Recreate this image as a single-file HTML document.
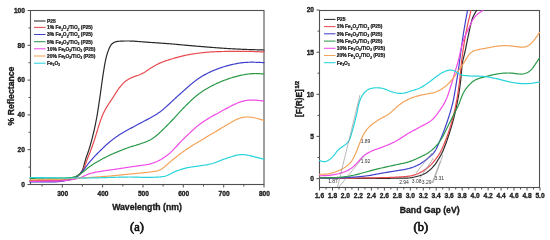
<!DOCTYPE html>
<html><head><meta charset="utf-8"><style>
html,body{margin:0;padding:0;background:#fff;width:550px;height:240px;overflow:hidden}
svg{display:block;will-change:transform}
text{font-family:"Liberation Sans", sans-serif;fill:#222}
.tk{font-size:6.6px;font-weight:bold;stroke:#1a1a1a;stroke-width:0.32px}
.ax{font-size:8.7px;font-weight:bold;stroke:#111;stroke-width:0.32px}
.lg{font-size:4.9px;font-weight:bold;stroke:#111;stroke-width:0.22px}
.sub{font-size:3px}
.tl{font-size:5px;fill:#333}
.cap{font-family:"Liberation Serif", serif;font-size:12.4px;fill:#111;stroke:#111;stroke-width:0.7px}
.curves path{fill:none;stroke-width:1.2;stroke-linejoin:round;stroke-linecap:round}
</style></head><body>
<svg width="550" height="240" viewBox="0 0 550 240">
<rect x="30.5" y="10.5" width="233.5" height="174" fill="none" stroke="#505050" stroke-width="1.1"/><line x1="27.5" y1="184.5" x2="30.5" y2="184.5" stroke="#505050" stroke-width="1"/><text class="tk" x="24.9" y="186.7" text-anchor="end">0</text><line x1="28.5" y1="167.1" x2="30.5" y2="167.1" stroke="#505050" stroke-width="1"/><line x1="27.5" y1="149.7" x2="30.5" y2="149.7" stroke="#505050" stroke-width="1"/><text class="tk" x="24.9" y="151.9" text-anchor="end">20</text><line x1="28.5" y1="132.3" x2="30.5" y2="132.3" stroke="#505050" stroke-width="1"/><line x1="27.5" y1="114.9" x2="30.5" y2="114.9" stroke="#505050" stroke-width="1"/><text class="tk" x="24.9" y="117.1" text-anchor="end">40</text><line x1="28.5" y1="97.5" x2="30.5" y2="97.5" stroke="#505050" stroke-width="1"/><line x1="27.5" y1="80.1" x2="30.5" y2="80.1" stroke="#505050" stroke-width="1"/><text class="tk" x="24.9" y="82.3" text-anchor="end">60</text><line x1="28.5" y1="62.7" x2="30.5" y2="62.7" stroke="#505050" stroke-width="1"/><line x1="27.5" y1="45.3" x2="30.5" y2="45.3" stroke="#505050" stroke-width="1"/><text class="tk" x="24.9" y="47.5" text-anchor="end">80</text><line x1="28.5" y1="27.9" x2="30.5" y2="27.9" stroke="#505050" stroke-width="1"/><line x1="27.5" y1="10.5" x2="30.5" y2="10.5" stroke="#505050" stroke-width="1"/><text class="tk" x="24.9" y="12.7" text-anchor="end">100</text><line x1="42.1" y1="184.5" x2="42.1" y2="186.5" stroke="#505050" stroke-width="1"/><line x1="62.3" y1="184.5" x2="62.3" y2="187.5" stroke="#505050" stroke-width="1"/><text class="tk" x="62.7" y="195.6" text-anchor="middle">300</text><line x1="82.4" y1="184.5" x2="82.4" y2="186.5" stroke="#505050" stroke-width="1"/><line x1="102.6" y1="184.5" x2="102.6" y2="187.5" stroke="#505050" stroke-width="1"/><text class="tk" x="103.0" y="195.6" text-anchor="middle">400</text><line x1="122.8" y1="184.5" x2="122.8" y2="186.5" stroke="#505050" stroke-width="1"/><line x1="143.0" y1="184.5" x2="143.0" y2="187.5" stroke="#505050" stroke-width="1"/><text class="tk" x="143.4" y="195.6" text-anchor="middle">500</text><line x1="163.1" y1="184.5" x2="163.1" y2="186.5" stroke="#505050" stroke-width="1"/><line x1="183.3" y1="184.5" x2="183.3" y2="187.5" stroke="#505050" stroke-width="1"/><text class="tk" x="183.7" y="195.6" text-anchor="middle">600</text><line x1="203.5" y1="184.5" x2="203.5" y2="186.5" stroke="#505050" stroke-width="1"/><line x1="223.7" y1="184.5" x2="223.7" y2="187.5" stroke="#505050" stroke-width="1"/><text class="tk" x="224.1" y="195.6" text-anchor="middle">700</text><line x1="243.8" y1="184.5" x2="243.8" y2="186.5" stroke="#505050" stroke-width="1"/><line x1="264.0" y1="184.5" x2="264.0" y2="187.5" stroke="#505050" stroke-width="1"/><text class="tk" x="264.4" y="195.6" text-anchor="middle">800</text><g class="curves"><path d="M30.00,180.50 L31.00,180.51 L32.01,180.52 L33.01,180.52 L34.01,180.54 L35.01,180.55 L36.02,180.56 L37.02,180.58 L38.02,180.60 L39.03,180.61 L40.03,180.63 L41.03,180.65 L42.03,180.67 L43.04,180.69 L44.04,180.71 L45.04,180.72 L46.05,180.74 L47.05,180.75 L48.05,180.76 L49.05,180.77 L50.06,180.77 L51.06,180.77 L52.06,180.77 L53.07,180.76 L54.07,180.74 L55.07,180.72 L56.07,180.69 L57.07,180.65 L58.08,180.60 L59.08,180.54 L60.08,180.46 L61.08,180.38 L62.07,180.29 L63.07,180.18 L64.07,180.06 L65.06,179.93 L66.05,179.79 L67.04,179.62 L68.03,179.44 L69.01,179.23 L69.98,179.00 L70.94,178.74 L71.90,178.44 L72.84,178.10 L73.76,177.72 L74.66,177.29 L75.54,176.82 L76.40,176.31 L77.24,175.77 L78.06,175.20 L78.85,174.59 L79.59,173.93 L80.29,173.23 L80.92,172.47 L81.48,171.66 L81.98,170.80 L82.41,169.91 L82.80,168.99 L83.14,168.05 L83.45,167.10 L83.74,166.14 L84.02,165.18 L84.28,164.21 L84.54,163.24 L84.80,162.27 L85.06,161.30 L85.33,160.34 L85.61,159.38 L85.91,158.42 L86.22,157.47 L86.54,156.52 L86.87,155.57 L87.21,154.63 L87.55,153.68 L87.89,152.74 L88.23,151.80 L88.56,150.85 L88.88,149.90 L89.18,148.94 L89.48,147.99 L89.77,147.03 L90.05,146.06 L90.33,145.10 L90.60,144.13 L90.87,143.17 L91.13,142.20 L91.39,141.23 L91.64,140.26 L91.90,139.29 L92.15,138.32 L92.40,137.35 L92.64,136.37 L92.88,135.40 L93.12,134.43 L93.36,133.45 L93.59,132.48 L93.82,131.50 L94.05,130.52 L94.28,129.55 L94.50,128.57 L94.72,127.59 L94.93,126.61 L95.14,125.63 L95.35,124.65 L95.56,123.67 L95.75,122.68 L95.95,121.70 L96.14,120.72 L96.33,119.73 L96.51,118.74 L96.69,117.76 L96.86,116.77 L97.03,115.78 L97.20,114.79 L97.36,113.80 L97.53,112.81 L97.69,111.82 L97.84,110.83 L98.00,109.84 L98.15,108.85 L98.31,107.86 L98.46,106.87 L98.61,105.88 L98.76,104.89 L98.91,103.89 L99.06,102.90 L99.21,101.91 L99.36,100.92 L99.51,99.93 L99.66,98.94 L99.80,97.94 L99.95,96.95 L100.09,95.96 L100.23,94.96 L100.37,93.97 L100.50,92.98 L100.64,91.98 L100.77,90.99 L100.91,90.00 L101.04,89.00 L101.18,88.01 L101.31,87.01 L101.44,86.02 L101.58,85.03 L101.72,84.03 L101.86,83.04 L102.00,82.05 L102.14,81.05 L102.28,80.06 L102.42,79.07 L102.57,78.08 L102.72,77.08 L102.86,76.09 L103.01,75.10 L103.17,74.11 L103.32,73.12 L103.48,72.13 L103.64,71.14 L103.80,70.15 L103.96,69.16 L104.12,68.17 L104.28,67.18 L104.44,66.19 L104.61,65.20 L104.78,64.21 L104.95,63.22 L105.13,62.24 L105.32,61.25 L105.52,60.27 L105.74,59.29 L105.96,58.31 L106.20,57.34 L106.46,56.37 L106.73,55.40 L107.01,54.44 L107.31,53.49 L107.62,52.53 L107.95,51.59 L108.29,50.64 L108.65,49.71 L109.02,48.78 L109.42,47.86 L109.85,46.96 L110.32,46.08 L110.85,45.25 L111.44,44.47 L112.11,43.76 L112.86,43.14 L113.69,42.62 L114.57,42.20 L115.49,41.87 L116.45,41.63 L117.43,41.46 L118.42,41.34 L119.41,41.26 L120.41,41.19 L121.41,41.13 L122.41,41.08 L123.42,41.04 L124.42,41.02 L125.42,41.00 L126.42,40.98 L127.43,40.98 L128.43,40.99 L129.43,41.01 L130.43,41.03 L131.44,41.07 L132.44,41.11 L133.44,41.16 L134.44,41.22 L135.44,41.28 L136.44,41.35 L137.44,41.42 L138.44,41.49 L139.44,41.57 L140.44,41.65 L141.44,41.73 L142.44,41.81 L143.44,41.89 L144.44,41.97 L145.44,42.05 L146.44,42.13 L147.44,42.21 L148.44,42.28 L149.44,42.35 L150.44,42.43 L151.44,42.50 L152.44,42.57 L153.44,42.63 L154.44,42.70 L155.45,42.77 L156.45,42.84 L157.45,42.90 L158.45,42.97 L159.45,43.04 L160.45,43.11 L161.45,43.18 L162.45,43.24 L163.45,43.31 L164.45,43.39 L165.45,43.46 L166.45,43.53 L167.45,43.61 L168.45,43.68 L169.45,43.76 L170.45,43.84 L171.45,43.92 L172.45,44.01 L173.45,44.09 L174.45,44.18 L175.45,44.27 L176.45,44.36 L177.44,44.45 L178.44,44.55 L179.44,44.64 L180.44,44.73 L181.44,44.82 L182.44,44.92 L183.44,45.01 L184.43,45.10 L185.43,45.19 L186.43,45.28 L187.43,45.37 L188.43,45.46 L189.43,45.55 L190.43,45.63 L191.43,45.72 L192.43,45.81 L193.43,45.89 L194.43,45.97 L195.43,46.06 L196.43,46.14 L197.42,46.23 L198.42,46.31 L199.42,46.39 L200.42,46.47 L201.42,46.56 L202.42,46.64 L203.42,46.72 L204.42,46.80 L205.42,46.88 L206.42,46.96 L207.42,47.04 L208.42,47.12 L209.42,47.20 L210.42,47.28 L211.42,47.36 L212.42,47.44 L213.42,47.51 L214.42,47.59 L215.42,47.66 L216.42,47.74 L217.42,47.81 L218.42,47.88 L219.42,47.96 L220.42,48.03 L221.42,48.10 L222.42,48.17 L223.42,48.23 L224.42,48.30 L225.42,48.37 L226.43,48.43 L227.43,48.50 L228.43,48.56 L229.43,48.62 L230.43,48.68 L231.43,48.74 L232.43,48.80 L233.43,48.86 L234.43,48.92 L235.44,48.97 L236.44,49.02 L237.44,49.07 L238.44,49.12 L239.44,49.17 L240.44,49.22 L241.45,49.26 L242.45,49.30 L243.45,49.34 L244.45,49.38 L245.45,49.42 L246.46,49.46 L247.46,49.49 L248.46,49.52 L249.46,49.56 L250.47,49.59 L251.47,49.62 L252.47,49.65 L253.47,49.68 L254.48,49.71 L255.48,49.74 L256.48,49.77 L257.48,49.80 L258.49,49.83 L259.49,49.86 L260.49,49.89 L261.49,49.92 L262.50,49.95 L263.50,49.98 L264.00,50.00" stroke="#2a2a2a"/>
<path d="M30.00,181.00 L31.00,180.97 L32.01,180.93 L33.01,180.90 L34.01,180.86 L35.01,180.83 L36.02,180.79 L37.02,180.76 L38.02,180.72 L39.02,180.69 L40.03,180.65 L41.03,180.62 L42.03,180.59 L43.03,180.56 L44.04,180.53 L45.04,180.51 L46.04,180.49 L47.05,180.47 L48.05,180.46 L49.05,180.45 L50.05,180.44 L51.06,180.43 L52.06,180.43 L53.06,180.42 L54.07,180.40 L55.07,180.39 L56.07,180.36 L57.08,180.33 L58.08,180.29 L59.08,180.24 L60.08,180.18 L61.08,180.12 L62.08,180.06 L63.08,179.99 L64.08,179.92 L65.08,179.84 L66.08,179.76 L67.08,179.67 L68.08,179.56 L69.08,179.44 L70.07,179.30 L71.05,179.13 L72.03,178.92 L72.99,178.66 L73.93,178.34 L74.84,177.96 L75.72,177.50 L76.57,176.98 L77.38,176.41 L78.17,175.80 L78.94,175.16 L79.68,174.49 L80.38,173.78 L81.04,173.03 L81.65,172.25 L82.20,171.42 L82.71,170.56 L83.17,169.68 L83.60,168.78 L84.00,167.86 L84.38,166.93 L84.75,166.00 L85.11,165.06 L85.46,164.12 L85.81,163.18 L86.16,162.24 L86.51,161.30 L86.87,160.37 L87.23,159.43 L87.60,158.50 L87.97,157.56 L88.34,156.63 L88.70,155.70 L89.07,154.76 L89.43,153.83 L89.79,152.89 L90.15,151.96 L90.51,151.02 L90.86,150.08 L91.21,149.14 L91.56,148.20 L91.90,147.25 L92.24,146.31 L92.57,145.36 L92.90,144.42 L93.23,143.47 L93.55,142.52 L93.87,141.57 L94.18,140.61 L94.50,139.66 L94.81,138.71 L95.12,137.75 L95.42,136.80 L95.73,135.84 L96.03,134.88 L96.32,133.93 L96.61,132.97 L96.90,132.00 L97.19,131.04 L97.47,130.08 L97.75,129.12 L98.04,128.16 L98.33,127.20 L98.62,126.24 L98.92,125.28 L99.23,124.33 L99.54,123.37 L99.86,122.42 L100.18,121.47 L100.51,120.52 L100.85,119.58 L101.20,118.64 L101.55,117.70 L101.92,116.77 L102.30,115.84 L102.69,114.91 L103.09,114.00 L103.50,113.08 L103.93,112.18 L104.38,111.28 L104.84,110.39 L105.32,109.51 L105.81,108.63 L106.32,107.77 L106.84,106.91 L107.37,106.06 L107.91,105.21 L108.45,104.37 L108.99,103.53 L109.54,102.69 L110.10,101.85 L110.65,101.02 L111.21,100.18 L111.77,99.35 L112.33,98.52 L112.88,97.68 L113.43,96.84 L113.96,95.99 L114.49,95.14 L115.01,94.28 L115.53,93.42 L116.05,92.57 L116.59,91.72 L117.13,90.88 L117.70,90.05 L118.27,89.23 L118.86,88.42 L119.47,87.62 L120.08,86.83 L120.72,86.05 L121.37,85.29 L122.03,84.54 L122.72,83.81 L123.42,83.10 L124.15,82.41 L124.89,81.74 L125.66,81.10 L126.46,80.50 L127.28,79.93 L128.13,79.40 L129.00,78.90 L129.88,78.44 L130.78,78.00 L131.70,77.60 L132.62,77.21 L133.56,76.85 L134.50,76.51 L135.45,76.18 L136.40,75.87 L137.35,75.54 L138.29,75.20 L139.22,74.84 L140.15,74.45 L141.06,74.04 L141.96,73.60 L142.85,73.14 L143.73,72.66 L144.60,72.16 L145.45,71.64 L146.29,71.09 L147.11,70.52 L147.94,69.95 L148.76,69.38 L149.59,68.82 L150.43,68.27 L151.28,67.73 L152.13,67.21 L153.00,66.69 L153.86,66.19 L154.73,65.69 L155.61,65.21 L156.50,64.74 L157.39,64.28 L158.29,63.84 L159.19,63.41 L160.11,63.00 L161.03,62.61 L161.96,62.23 L162.89,61.86 L163.83,61.51 L164.78,61.18 L165.73,60.85 L166.68,60.53 L167.63,60.22 L168.59,59.91 L169.54,59.62 L170.50,59.32 L171.46,59.03 L172.43,58.75 L173.39,58.47 L174.35,58.19 L175.32,57.92 L176.28,57.64 L177.25,57.38 L178.22,57.11 L179.19,56.85 L180.16,56.60 L181.13,56.35 L182.10,56.11 L183.08,55.87 L184.05,55.64 L185.03,55.42 L186.01,55.20 L186.99,55.00 L187.98,54.80 L188.96,54.61 L189.95,54.43 L190.94,54.25 L191.92,54.09 L192.91,53.93 L193.91,53.77 L194.90,53.63 L195.89,53.49 L196.89,53.35 L197.88,53.22 L198.88,53.10 L199.87,52.98 L200.87,52.86 L201.86,52.75 L202.86,52.65 L203.86,52.54 L204.86,52.45 L205.86,52.35 L206.86,52.26 L207.86,52.18 L208.86,52.10 L209.86,52.02 L210.86,51.95 L211.86,51.89 L212.86,51.83 L213.86,51.78 L214.86,51.73 L215.87,51.69 L216.87,51.65 L217.87,51.62 L218.87,51.59 L219.88,51.56 L220.88,51.54 L221.88,51.52 L222.88,51.50 L223.89,51.48 L224.89,51.47 L225.89,51.46 L226.90,51.44 L227.90,51.43 L228.90,51.41 L229.91,51.40 L230.91,51.39 L231.91,51.38 L232.92,51.36 L233.92,51.35 L234.92,51.34 L235.93,51.34 L236.93,51.33 L237.93,51.32 L238.93,51.32 L239.94,51.32 L240.94,51.32 L241.94,51.32 L242.95,51.32 L243.95,51.33 L244.95,51.33 L245.96,51.34 L246.96,51.36 L247.96,51.37 L248.97,51.39 L249.97,51.41 L250.97,51.43 L251.97,51.46 L252.98,51.50 L253.98,51.53 L254.98,51.57 L255.98,51.62 L256.99,51.66 L257.99,51.71 L258.99,51.76 L259.99,51.81 L260.99,51.86 L262.00,51.91 L263.00,51.95 L264.00,52.00 L264.00,52.00" stroke="#e84a4f"/>
<path d="M30.00,182.00 L31.00,181.99 L32.00,181.97 L33.01,181.96 L34.01,181.95 L35.01,181.94 L36.01,181.92 L37.02,181.91 L38.02,181.90 L39.02,181.89 L40.02,181.87 L41.03,181.86 L42.03,181.85 L43.03,181.83 L44.03,181.82 L45.03,181.81 L46.04,181.81 L47.04,181.81 L48.04,181.81 L49.04,181.82 L50.05,181.83 L51.05,181.84 L52.05,181.85 L53.05,181.85 L54.05,181.84 L55.06,181.82 L56.06,181.78 L57.06,181.73 L58.06,181.66 L59.05,181.57 L60.05,181.46 L61.04,181.33 L62.04,181.19 L63.03,181.04 L64.02,180.87 L65.00,180.70 L65.99,180.52 L66.97,180.32 L67.95,180.11 L68.92,179.88 L69.90,179.64 L70.86,179.37 L71.82,179.09 L72.77,178.77 L73.70,178.42 L74.62,178.03 L75.52,177.60 L76.39,177.11 L77.22,176.57 L78.02,175.98 L78.78,175.34 L79.51,174.66 L80.21,173.95 L80.89,173.21 L81.56,172.46 L82.21,171.70 L82.84,170.93 L83.46,170.14 L84.07,169.35 L84.67,168.54 L85.26,167.73 L85.84,166.92 L86.43,166.11 L87.03,165.31 L87.64,164.51 L88.26,163.72 L88.89,162.95 L89.53,162.17 L90.18,161.41 L90.83,160.65 L91.49,159.89 L92.15,159.14 L92.82,158.39 L93.49,157.65 L94.17,156.91 L94.85,156.18 L95.54,155.45 L96.23,154.72 L96.93,154.00 L97.63,153.29 L98.34,152.57 L99.04,151.86 L99.76,151.16 L100.47,150.46 L101.19,149.76 L101.91,149.06 L102.63,148.36 L103.35,147.67 L104.08,146.97 L104.80,146.29 L105.54,145.60 L106.27,144.92 L107.02,144.25 L107.77,143.59 L108.53,142.93 L109.29,142.28 L110.06,141.64 L110.84,141.01 L111.62,140.39 L112.41,139.77 L113.20,139.15 L114.00,138.55 L114.81,137.95 L115.61,137.36 L116.43,136.78 L117.25,136.20 L118.08,135.64 L118.92,135.09 L119.76,134.55 L120.61,134.01 L121.47,133.49 L122.33,132.98 L123.19,132.47 L124.06,131.97 L124.93,131.48 L125.81,130.99 L126.68,130.50 L127.56,130.02 L128.44,129.54 L129.32,129.06 L130.21,128.59 L131.09,128.11 L131.97,127.64 L132.85,127.16 L133.74,126.69 L134.62,126.21 L135.50,125.73 L136.38,125.26 L137.27,124.78 L138.15,124.31 L139.04,123.84 L139.92,123.38 L140.81,122.91 L141.70,122.44 L142.59,121.98 L143.47,121.51 L144.36,121.05 L145.25,120.58 L146.13,120.11 L147.01,119.63 L147.89,119.15 L148.77,118.67 L149.65,118.19 L150.53,117.70 L151.40,117.21 L152.27,116.72 L153.15,116.22 L154.02,115.73 L154.88,115.22 L155.75,114.71 L156.60,114.19 L157.45,113.66 L158.29,113.12 L159.12,112.56 L159.94,111.98 L160.75,111.38 L161.54,110.77 L162.31,110.14 L163.08,109.49 L163.84,108.84 L164.59,108.17 L165.33,107.50 L166.08,106.83 L166.82,106.16 L167.56,105.48 L168.30,104.81 L169.04,104.13 L169.77,103.45 L170.51,102.76 L171.24,102.08 L171.97,101.39 L172.70,100.70 L173.43,100.02 L174.16,99.33 L174.89,98.65 L175.63,97.96 L176.36,97.28 L177.10,96.61 L177.84,95.93 L178.59,95.26 L179.34,94.59 L180.08,93.93 L180.83,93.26 L181.58,92.60 L182.33,91.93 L183.08,91.26 L183.83,90.60 L184.58,89.93 L185.32,89.26 L186.07,88.59 L186.82,87.93 L187.57,87.27 L188.33,86.60 L189.08,85.95 L189.84,85.29 L190.61,84.64 L191.37,84.00 L192.15,83.36 L192.92,82.72 L193.70,82.10 L194.49,81.48 L195.28,80.87 L196.09,80.26 L196.89,79.67 L197.71,79.09 L198.53,78.52 L199.37,77.96 L200.21,77.42 L201.05,76.88 L201.91,76.36 L202.77,75.85 L203.64,75.36 L204.52,74.87 L205.40,74.39 L206.29,73.92 L207.18,73.47 L208.07,73.02 L208.97,72.58 L209.88,72.15 L210.79,71.73 L211.71,71.32 L212.62,70.92 L213.55,70.53 L214.47,70.14 L215.40,69.76 L216.33,69.40 L217.27,69.03 L218.20,68.68 L219.14,68.33 L220.09,68.00 L221.03,67.67 L221.98,67.35 L222.94,67.04 L223.90,66.74 L224.86,66.46 L225.82,66.18 L226.78,65.91 L227.75,65.65 L228.72,65.39 L229.69,65.15 L230.67,64.91 L231.64,64.68 L232.62,64.46 L233.60,64.24 L234.58,64.03 L235.56,63.83 L236.54,63.64 L237.53,63.45 L238.51,63.28 L239.50,63.11 L240.49,62.95 L241.48,62.81 L242.48,62.68 L243.47,62.57 L244.47,62.48 L245.47,62.41 L246.47,62.34 L247.47,62.30 L248.47,62.26 L249.47,62.23 L250.48,62.21 L251.48,62.21 L252.48,62.21 L253.48,62.22 L254.48,62.24 L255.49,62.27 L256.49,62.30 L257.49,62.34 L258.49,62.38 L259.49,62.42 L260.49,62.46 L261.50,62.50 L262.50,62.54 L263.50,62.58 L264.00,62.60" stroke="#4040cc"/>
<path d="M30.00,178.50 L31.00,178.46 L32.00,178.42 L33.01,178.39 L34.01,178.35 L35.01,178.31 L36.01,178.27 L37.01,178.23 L38.02,178.19 L39.02,178.15 L40.02,178.12 L41.02,178.09 L42.02,178.06 L43.03,178.04 L44.03,178.03 L45.03,178.02 L46.03,178.02 L47.04,178.03 L48.04,178.04 L49.04,178.06 L50.04,178.09 L51.05,178.12 L52.05,178.15 L53.05,178.18 L54.05,178.21 L55.06,178.22 L56.06,178.24 L57.06,178.24 L58.06,178.23 L59.07,178.21 L60.07,178.18 L61.07,178.15 L62.07,178.11 L63.07,178.07 L64.08,178.03 L65.08,177.98 L66.08,177.93 L67.08,177.87 L68.08,177.80 L69.08,177.71 L70.07,177.61 L71.07,177.49 L72.06,177.34 L73.04,177.16 L74.02,176.95 L74.98,176.69 L75.92,176.38 L76.85,176.01 L77.75,175.58 L78.62,175.10 L79.47,174.58 L80.29,174.02 L81.10,173.43 L81.90,172.83 L82.70,172.21 L83.48,171.59 L84.26,170.96 L85.03,170.31 L85.79,169.67 L86.56,169.02 L87.33,168.38 L88.11,167.75 L88.91,167.14 L89.72,166.55 L90.54,165.98 L91.37,165.43 L92.22,164.89 L93.07,164.35 L93.92,163.83 L94.78,163.32 L95.64,162.80 L96.51,162.29 L97.37,161.79 L98.24,161.28 L99.11,160.78 L99.98,160.29 L100.85,159.79 L101.73,159.31 L102.61,158.82 L103.49,158.34 L104.37,157.87 L105.26,157.41 L106.15,156.95 L107.05,156.50 L107.95,156.05 L108.85,155.62 L109.76,155.19 L110.66,154.77 L111.58,154.35 L112.49,153.94 L113.41,153.54 L114.33,153.14 L115.25,152.74 L116.18,152.35 L117.10,151.97 L118.03,151.58 L118.95,151.20 L119.88,150.83 L120.81,150.45 L121.75,150.08 L122.68,149.71 L123.61,149.35 L124.55,148.99 L125.49,148.64 L126.43,148.29 L127.37,147.95 L128.31,147.61 L129.26,147.28 L130.21,146.96 L131.16,146.65 L132.12,146.35 L133.08,146.06 L134.04,145.78 L135.01,145.50 L135.97,145.22 L136.93,144.94 L137.89,144.65 L138.85,144.35 L139.80,144.04 L140.75,143.72 L141.70,143.39 L142.64,143.05 L143.58,142.71 L144.52,142.35 L145.46,141.99 L146.38,141.61 L147.31,141.22 L148.22,140.81 L149.12,140.38 L150.02,139.93 L150.90,139.45 L151.76,138.95 L152.61,138.42 L153.44,137.86 L154.26,137.28 L155.06,136.68 L155.85,136.07 L156.63,135.43 L157.39,134.78 L158.15,134.12 L158.89,133.45 L159.63,132.78 L160.36,132.09 L161.09,131.40 L161.81,130.70 L162.53,130.01 L163.25,129.30 L163.96,128.60 L164.67,127.89 L165.38,127.18 L166.08,126.47 L166.79,125.76 L167.49,125.04 L168.20,124.33 L168.90,123.61 L169.60,122.90 L170.30,122.18 L171.00,121.46 L171.69,120.73 L172.38,120.00 L173.06,119.27 L173.75,118.54 L174.43,117.80 L175.10,117.06 L175.78,116.32 L176.46,115.58 L177.13,114.84 L177.81,114.10 L178.48,113.36 L179.16,112.62 L179.84,111.88 L180.52,111.15 L181.21,110.41 L181.90,109.69 L182.59,108.96 L183.29,108.24 L183.99,107.53 L184.70,106.82 L185.41,106.11 L186.12,105.40 L186.83,104.70 L187.55,103.99 L188.26,103.29 L188.98,102.59 L189.70,101.89 L190.42,101.19 L191.14,100.50 L191.87,99.81 L192.61,99.13 L193.35,98.45 L194.09,97.78 L194.85,97.12 L195.61,96.47 L196.38,95.83 L197.16,95.20 L197.94,94.58 L198.74,93.97 L199.55,93.37 L200.36,92.79 L201.18,92.22 L202.01,91.65 L202.85,91.10 L203.69,90.56 L204.54,90.03 L205.40,89.50 L206.26,88.99 L207.12,88.48 L207.99,87.98 L208.87,87.49 L209.74,87.01 L210.63,86.53 L211.51,86.07 L212.40,85.60 L213.30,85.15 L214.20,84.70 L215.10,84.27 L216.00,83.83 L216.91,83.41 L217.82,82.99 L218.74,82.58 L219.65,82.18 L220.58,81.78 L221.50,81.39 L222.43,81.02 L223.36,80.65 L224.30,80.29 L225.24,79.94 L226.18,79.59 L227.12,79.26 L228.07,78.93 L229.02,78.61 L229.97,78.30 L230.93,78.00 L231.89,77.70 L232.85,77.41 L233.81,77.13 L234.77,76.86 L235.74,76.59 L236.71,76.34 L237.68,76.09 L238.65,75.84 L239.63,75.61 L240.61,75.39 L241.59,75.17 L242.57,74.97 L243.55,74.78 L244.54,74.60 L245.53,74.43 L246.52,74.28 L247.51,74.13 L248.50,74.00 L249.50,73.89 L250.49,73.78 L251.49,73.70 L252.49,73.62 L253.49,73.57 L254.49,73.53 L255.50,73.52 L256.50,73.53 L257.50,73.56 L258.50,73.61 L259.50,73.67 L260.50,73.74 L261.50,73.82 L262.50,73.89 L263.50,73.96 L264.00,74.00" stroke="#2a9a48"/>
<path d="M30.00,181.50 L31.00,181.48 L32.01,181.46 L33.01,181.44 L34.01,181.42 L35.01,181.40 L36.02,181.38 L37.02,181.35 L38.02,181.33 L39.03,181.31 L40.03,181.29 L41.03,181.27 L42.04,181.25 L43.04,181.24 L44.04,181.22 L45.04,181.21 L46.05,181.20 L47.05,181.20 L48.05,181.19 L49.06,181.20 L50.06,181.20 L51.06,181.20 L52.07,181.21 L53.07,181.21 L54.07,181.20 L55.08,181.19 L56.08,181.16 L57.08,181.13 L58.08,181.09 L59.08,181.04 L60.08,180.97 L61.09,180.90 L62.09,180.83 L63.09,180.74 L64.08,180.65 L65.08,180.56 L66.08,180.46 L67.08,180.35 L68.08,180.24 L69.07,180.12 L70.07,179.99 L71.06,179.85 L72.05,179.70 L73.04,179.53 L74.02,179.35 L75.01,179.16 L75.99,178.94 L76.96,178.71 L77.93,178.44 L78.88,178.15 L79.83,177.83 L80.77,177.48 L81.70,177.11 L82.62,176.71 L83.53,176.30 L84.44,175.88 L85.35,175.45 L86.27,175.04 L87.18,174.64 L88.11,174.26 L89.05,173.91 L90.00,173.58 L90.95,173.29 L91.92,173.03 L92.89,172.80 L93.87,172.58 L94.86,172.39 L95.84,172.20 L96.83,172.03 L97.82,171.86 L98.81,171.70 L99.80,171.54 L100.79,171.37 L101.78,171.21 L102.77,171.06 L103.76,170.90 L104.75,170.75 L105.74,170.61 L106.74,170.46 L107.73,170.32 L108.72,170.18 L109.72,170.04 L110.71,169.90 L111.70,169.76 L112.70,169.62 L113.69,169.48 L114.68,169.34 L115.68,169.19 L116.67,169.04 L117.66,168.90 L118.65,168.75 L119.64,168.59 L120.63,168.44 L121.63,168.29 L122.62,168.13 L123.61,167.98 L124.60,167.83 L125.59,167.67 L126.58,167.52 L127.57,167.37 L128.57,167.22 L129.56,167.07 L130.55,166.93 L131.54,166.78 L132.54,166.64 L133.53,166.51 L134.52,166.37 L135.52,166.23 L136.51,166.09 L137.51,165.96 L138.50,165.82 L139.49,165.68 L140.49,165.54 L141.48,165.41 L142.48,165.27 L143.47,165.14 L144.46,165.01 L145.46,164.86 L146.44,164.70 L147.43,164.52 L148.41,164.32 L149.39,164.10 L150.36,163.84 L151.32,163.56 L152.28,163.26 L153.22,162.94 L154.17,162.60 L155.10,162.24 L156.03,161.86 L156.95,161.46 L157.86,161.04 L158.76,160.60 L159.65,160.14 L160.53,159.66 L161.40,159.16 L162.26,158.65 L163.11,158.12 L163.95,157.57 L164.78,157.01 L165.60,156.43 L166.41,155.84 L167.21,155.23 L168.00,154.61 L168.77,153.98 L169.54,153.34 L170.30,152.68 L171.04,152.00 L171.77,151.32 L172.48,150.62 L173.19,149.90 L173.88,149.18 L174.57,148.45 L175.25,147.71 L175.93,146.97 L176.61,146.23 L177.28,145.49 L177.96,144.75 L178.64,144.01 L179.32,143.28 L180.01,142.55 L180.71,141.83 L181.41,141.11 L182.12,140.40 L182.83,139.69 L183.54,138.99 L184.25,138.28 L184.97,137.58 L185.68,136.87 L186.40,136.17 L187.11,135.47 L187.83,134.77 L188.55,134.07 L189.27,133.37 L190.00,132.68 L190.73,131.99 L191.46,131.30 L192.19,130.62 L192.93,129.94 L193.68,129.27 L194.43,128.60 L195.18,127.94 L195.94,127.29 L196.71,126.64 L197.49,126.01 L198.27,125.38 L199.06,124.76 L199.86,124.15 L200.66,123.56 L201.47,122.97 L202.29,122.39 L203.12,121.83 L203.96,121.27 L204.79,120.72 L205.64,120.18 L206.49,119.65 L207.34,119.12 L208.20,118.61 L209.07,118.09 L209.93,117.59 L210.80,117.09 L211.67,116.59 L212.55,116.10 L213.42,115.61 L214.30,115.12 L215.18,114.64 L216.06,114.16 L216.94,113.67 L217.82,113.19 L218.70,112.71 L219.58,112.23 L220.46,111.75 L221.34,111.26 L222.21,110.78 L223.09,110.30 L223.97,109.81 L224.85,109.33 L225.73,108.85 L226.62,108.37 L227.50,107.90 L228.38,107.42 L229.27,106.95 L230.16,106.49 L231.05,106.03 L231.94,105.58 L232.84,105.13 L233.75,104.69 L234.65,104.26 L235.56,103.84 L236.48,103.44 L237.40,103.05 L238.33,102.67 L239.27,102.32 L240.21,101.98 L241.17,101.67 L242.12,101.38 L243.09,101.11 L244.06,100.88 L245.04,100.67 L246.03,100.49 L247.02,100.34 L248.01,100.22 L249.01,100.13 L250.01,100.06 L251.01,100.03 L252.01,100.02 L253.01,100.04 L254.01,100.08 L255.01,100.14 L256.01,100.22 L257.01,100.31 L258.01,100.41 L259.01,100.51 L260.01,100.61 L261.00,100.71 L262.00,100.81 L263.00,100.91 L264.00,101.00 L264.00,101.00" stroke="#f04ce6"/>
<path d="M30.00,180.00 L31.00,179.97 L32.01,179.93 L33.01,179.90 L34.01,179.86 L35.01,179.83 L36.02,179.79 L37.02,179.76 L38.02,179.72 L39.02,179.69 L40.03,179.65 L41.03,179.62 L42.03,179.59 L43.04,179.56 L44.04,179.53 L45.04,179.50 L46.04,179.48 L47.05,179.46 L48.05,179.44 L49.05,179.42 L50.06,179.41 L51.06,179.39 L52.06,179.38 L53.07,179.36 L54.07,179.35 L55.07,179.33 L56.08,179.31 L57.08,179.28 L58.08,179.25 L59.08,179.22 L60.09,179.19 L61.09,179.15 L62.09,179.11 L63.09,179.06 L64.10,179.01 L65.10,178.96 L66.10,178.91 L67.10,178.86 L68.10,178.80 L69.11,178.74 L70.11,178.69 L71.11,178.63 L72.11,178.57 L73.11,178.50 L74.11,178.44 L75.11,178.38 L76.12,178.32 L77.12,178.26 L78.12,178.19 L79.12,178.13 L80.12,178.07 L81.12,178.01 L82.12,177.94 L83.13,177.88 L84.13,177.82 L85.13,177.75 L86.13,177.69 L87.13,177.63 L88.13,177.56 L89.13,177.50 L90.13,177.43 L91.14,177.37 L92.14,177.30 L93.14,177.23 L94.14,177.17 L95.14,177.10 L96.14,177.03 L97.14,176.96 L98.14,176.89 L99.14,176.82 L100.14,176.75 L101.15,176.68 L102.15,176.61 L103.15,176.53 L104.15,176.46 L105.15,176.38 L106.15,176.31 L107.15,176.23 L108.15,176.15 L109.15,176.07 L110.15,175.98 L111.15,175.90 L112.15,175.81 L113.15,175.72 L114.15,175.62 L115.14,175.53 L116.14,175.43 L117.14,175.33 L118.14,175.23 L119.14,175.13 L120.14,175.03 L121.13,174.92 L122.13,174.82 L123.13,174.72 L124.13,174.61 L125.12,174.51 L126.12,174.40 L127.12,174.30 L128.12,174.19 L129.12,174.09 L130.11,173.99 L131.11,173.90 L132.11,173.80 L133.11,173.71 L134.11,173.62 L135.11,173.53 L136.11,173.44 L137.11,173.35 L138.11,173.26 L139.11,173.17 L140.11,173.08 L141.11,172.99 L142.10,172.90 L143.10,172.80 L144.10,172.70 L145.10,172.59 L146.10,172.48 L147.09,172.37 L148.09,172.25 L149.08,172.12 L150.08,171.99 L151.07,171.86 L152.07,171.73 L153.06,171.60 L154.06,171.46 L155.05,171.31 L156.03,171.12 L157.00,170.90 L157.96,170.63 L158.90,170.30 L159.82,169.92 L160.71,169.48 L161.57,168.98 L162.41,168.43 L163.22,167.85 L164.00,167.23 L164.78,166.59 L165.53,165.94 L166.29,165.27 L167.03,164.61 L167.78,163.94 L168.54,163.28 L169.30,162.62 L170.06,161.98 L170.84,161.34 L171.61,160.70 L172.39,160.06 L173.17,159.43 L173.95,158.80 L174.72,158.17 L175.50,157.53 L176.29,156.91 L177.07,156.28 L177.86,155.66 L178.65,155.05 L179.45,154.44 L180.25,153.83 L181.05,153.23 L181.86,152.64 L182.67,152.05 L183.49,151.46 L184.30,150.88 L185.13,150.30 L185.95,149.73 L186.78,149.16 L187.61,148.60 L188.44,148.04 L189.28,147.49 L190.12,146.94 L190.97,146.40 L191.82,145.87 L192.67,145.35 L193.53,144.83 L194.39,144.31 L195.25,143.80 L196.12,143.29 L196.98,142.78 L197.85,142.27 L198.71,141.76 L199.57,141.25 L200.43,140.73 L201.29,140.22 L202.15,139.70 L203.01,139.18 L203.87,138.66 L204.73,138.14 L205.58,137.62 L206.44,137.10 L207.30,136.57 L208.16,136.05 L209.01,135.53 L209.87,135.01 L210.73,134.49 L211.59,133.98 L212.45,133.46 L213.31,132.94 L214.17,132.43 L215.03,131.92 L215.90,131.40 L216.76,130.89 L217.63,130.39 L218.49,129.88 L219.36,129.37 L220.22,128.86 L221.09,128.35 L221.95,127.84 L222.81,127.32 L223.67,126.81 L224.52,126.28 L225.38,125.76 L226.24,125.24 L227.09,124.72 L227.95,124.19 L228.81,123.68 L229.67,123.16 L230.53,122.65 L231.40,122.15 L232.27,121.65 L233.15,121.16 L234.03,120.69 L234.92,120.23 L235.82,119.79 L236.73,119.36 L237.65,118.96 L238.58,118.59 L239.52,118.25 L240.47,117.95 L241.44,117.68 L242.41,117.46 L243.39,117.27 L244.38,117.13 L245.38,117.03 L246.38,116.98 L247.38,116.96 L248.38,116.98 L249.38,117.03 L250.37,117.11 L251.37,117.23 L252.36,117.38 L253.34,117.56 L254.32,117.77 L255.30,118.00 L256.27,118.25 L257.24,118.51 L258.20,118.78 L259.17,119.06 L260.13,119.33 L261.10,119.61 L262.06,119.87 L263.03,120.14 L264.00,120.40 L264.00,120.40" stroke="#f4a45a"/>
<path d="M30.00,177.50 L31.00,177.50 L32.01,177.51 L33.01,177.51 L34.01,177.52 L35.01,177.52 L36.02,177.53 L37.02,177.53 L38.02,177.54 L39.03,177.54 L40.03,177.55 L41.03,177.56 L42.04,177.57 L43.04,177.58 L44.04,177.59 L45.04,177.61 L46.05,177.63 L47.05,177.65 L48.05,177.67 L49.05,177.70 L50.06,177.73 L51.06,177.76 L52.06,177.79 L53.06,177.82 L54.07,177.85 L55.07,177.88 L56.07,177.91 L57.07,177.94 L58.08,177.96 L59.08,177.98 L60.08,177.99 L61.09,178.01 L62.09,178.01 L63.09,178.02 L64.09,178.03 L65.10,178.03 L66.10,178.03 L67.10,178.03 L68.11,178.02 L69.11,178.02 L70.11,178.02 L71.11,178.01 L72.12,178.01 L73.12,178.01 L74.12,178.01 L75.13,178.00 L76.13,178.00 L77.13,178.00 L78.13,178.01 L79.14,178.01 L80.14,178.01 L81.14,178.02 L82.15,178.02 L83.15,178.03 L84.15,178.03 L85.16,178.03 L86.16,178.02 L87.16,178.02 L88.16,178.01 L89.17,178.00 L90.17,177.99 L91.17,177.97 L92.18,177.96 L93.18,177.94 L94.18,177.91 L95.18,177.89 L96.19,177.87 L97.19,177.84 L98.19,177.81 L99.19,177.78 L100.20,177.75 L101.20,177.72 L102.20,177.69 L103.20,177.66 L104.21,177.63 L105.21,177.60 L106.21,177.57 L107.21,177.54 L108.22,177.51 L109.22,177.48 L110.22,177.44 L111.22,177.41 L112.23,177.38 L113.23,177.35 L114.23,177.32 L115.23,177.29 L116.24,177.27 L117.24,177.24 L118.24,177.21 L119.24,177.19 L120.25,177.16 L121.25,177.14 L122.25,177.12 L123.25,177.09 L124.26,177.08 L125.26,177.06 L126.26,177.04 L127.27,177.03 L128.27,177.02 L129.27,177.02 L130.27,177.02 L131.28,177.02 L132.28,177.03 L133.28,177.04 L134.29,177.06 L135.29,177.09 L136.29,177.12 L137.29,177.15 L138.29,177.19 L139.30,177.22 L140.30,177.26 L141.30,177.30 L142.30,177.33 L143.31,177.36 L144.31,177.39 L145.31,177.40 L146.31,177.42 L147.32,177.42 L148.32,177.41 L149.32,177.40 L150.33,177.38 L151.33,177.36 L152.33,177.33 L153.33,177.30 L154.33,177.26 L155.34,177.22 L156.34,177.18 L157.34,177.13 L158.34,177.07 L159.34,176.99 L160.34,176.90 L161.34,176.80 L162.33,176.66 L163.32,176.50 L164.30,176.31 L165.27,176.08 L166.22,175.80 L167.16,175.47 L168.08,175.08 L168.99,174.66 L169.88,174.20 L170.76,173.72 L171.64,173.25 L172.52,172.78 L173.42,172.34 L174.33,171.93 L175.25,171.53 L176.18,171.16 L177.12,170.80 L178.06,170.45 L179.01,170.12 L179.95,169.79 L180.91,169.48 L181.86,169.18 L182.82,168.89 L183.79,168.61 L184.75,168.35 L185.73,168.11 L186.70,167.88 L187.68,167.67 L188.67,167.48 L189.65,167.30 L190.64,167.13 L191.63,166.98 L192.62,166.84 L193.62,166.70 L194.61,166.56 L195.61,166.43 L196.60,166.29 L197.59,166.15 L198.58,166.01 L199.58,165.86 L200.57,165.71 L201.56,165.56 L202.55,165.41 L203.54,165.27 L204.54,165.12 L205.53,164.97 L206.52,164.81 L207.51,164.64 L208.49,164.46 L209.47,164.26 L210.45,164.04 L211.42,163.79 L212.39,163.53 L213.35,163.24 L214.30,162.92 L215.24,162.59 L216.18,162.23 L217.11,161.87 L218.05,161.50 L218.97,161.12 L219.90,160.74 L220.83,160.37 L221.77,160.00 L222.70,159.64 L223.64,159.30 L224.59,158.96 L225.54,158.64 L226.49,158.32 L227.44,158.00 L228.39,157.68 L229.35,157.37 L230.30,157.07 L231.26,156.76 L232.21,156.47 L233.17,156.18 L234.14,155.91 L235.11,155.64 L236.08,155.40 L237.06,155.18 L238.04,154.98 L239.02,154.82 L240.01,154.69 L241.01,154.61 L242.01,154.58 L243.00,154.59 L244.00,154.66 L244.99,154.77 L245.98,154.92 L246.97,155.09 L247.95,155.28 L248.93,155.48 L249.92,155.69 L250.90,155.90 L251.87,156.12 L252.85,156.35 L253.82,156.59 L254.80,156.83 L255.77,157.09 L256.74,157.34 L257.71,157.60 L258.67,157.86 L259.64,158.13 L260.61,158.39 L261.58,158.65 L262.55,158.91 L263.52,159.17 L264.00,159.30" stroke="#2ad4dc"/>
</g><line x1="34.0" y1="21.0" x2="45.5" y2="21.0" stroke="#2a2a2a" stroke-width="1.05"/><text class="lg" x="47.0" y="22.8">P25</text>
<line x1="34.0" y1="27.4" x2="45.5" y2="27.4" stroke="#e84a4f" stroke-width="1.05"/><text class="lg" x="47.0" y="29.2">1% Fe<tspan class="sub" dy="1.3">2</tspan><tspan dy="-1.3">O</tspan><tspan class="sub" dy="1.3">3</tspan><tspan dy="-1.3">/TiO</tspan><tspan class="sub" dy="1.3">2</tspan><tspan dy="-1.3"> (P25)</tspan></text>
<line x1="34.0" y1="34.5" x2="45.5" y2="34.5" stroke="#4040cc" stroke-width="1.05"/><text class="lg" x="47.0" y="36.3">3% Fe<tspan class="sub" dy="1.3">2</tspan><tspan dy="-1.3">O</tspan><tspan class="sub" dy="1.3">3</tspan><tspan dy="-1.3">/TiO</tspan><tspan class="sub" dy="1.3">2</tspan><tspan dy="-1.3"> (P25)</tspan></text>
<line x1="34.0" y1="41.7" x2="45.5" y2="41.7" stroke="#2a9a48" stroke-width="1.05"/><text class="lg" x="47.0" y="43.5">5% Fe<tspan class="sub" dy="1.3">2</tspan><tspan dy="-1.3">O</tspan><tspan class="sub" dy="1.3">3</tspan><tspan dy="-1.3">/TiO</tspan><tspan class="sub" dy="1.3">2</tspan><tspan dy="-1.3"> (P25)</tspan></text>
<line x1="34.0" y1="48.8" x2="45.5" y2="48.8" stroke="#f04ce6" stroke-width="1.05"/><text class="lg" x="47.0" y="50.6">10% Fe<tspan class="sub" dy="1.3">2</tspan><tspan dy="-1.3">O</tspan><tspan class="sub" dy="1.3">3</tspan><tspan dy="-1.3">/TiO</tspan><tspan class="sub" dy="1.3">2</tspan><tspan dy="-1.3"> (P25)</tspan></text>
<line x1="34.0" y1="56.0" x2="45.5" y2="56.0" stroke="#f4a45a" stroke-width="1.05"/><text class="lg" x="47.0" y="57.8">20% Fe<tspan class="sub" dy="1.3">2</tspan><tspan dy="-1.3">O</tspan><tspan class="sub" dy="1.3">3</tspan><tspan dy="-1.3">/TiO</tspan><tspan class="sub" dy="1.3">2</tspan><tspan dy="-1.3"> (P25)</tspan></text>
<line x1="34.0" y1="63.2" x2="45.5" y2="63.2" stroke="#2ad4dc" stroke-width="1.05"/><text class="lg" x="47.0" y="65.0">Fe<tspan class="sub" dy="1.3">2</tspan><tspan dy="-1.3">O</tspan><tspan class="sub" dy="1.3">3</tspan></text>
<text class="ax" x="147" y="209.8" text-anchor="middle">Wavelength (nm)</text><text class="ax" transform="translate(13.6,96) rotate(-90)" text-anchor="middle">% Reflectance</text><text class="cap" x="137" y="231.2" text-anchor="middle">(a)</text><rect x="319.5" y="10.5" width="220" height="177" fill="none" stroke="#505050" stroke-width="1.1"/><line x1="316.5" y1="178.6" x2="319.5" y2="178.6" stroke="#505050" stroke-width="1"/><text class="tk" x="314" y="180.9" text-anchor="end">0</text><line x1="317.5" y1="157.5" x2="319.5" y2="157.5" stroke="#505050" stroke-width="1"/><line x1="316.5" y1="136.4" x2="319.5" y2="136.4" stroke="#505050" stroke-width="1"/><text class="tk" x="314" y="138.8" text-anchor="end">5</text><line x1="317.5" y1="115.4" x2="319.5" y2="115.4" stroke="#505050" stroke-width="1"/><line x1="316.5" y1="94.3" x2="319.5" y2="94.3" stroke="#505050" stroke-width="1"/><text class="tk" x="314" y="96.6" text-anchor="end">10</text><line x1="317.5" y1="73.2" x2="319.5" y2="73.2" stroke="#505050" stroke-width="1"/><line x1="316.5" y1="52.2" x2="319.5" y2="52.2" stroke="#505050" stroke-width="1"/><text class="tk" x="314" y="54.5" text-anchor="end">15</text><line x1="317.5" y1="31.1" x2="319.5" y2="31.1" stroke="#505050" stroke-width="1"/><line x1="316.5" y1="10.0" x2="319.5" y2="10.0" stroke="#505050" stroke-width="1"/><text class="tk" x="314" y="12.3" text-anchor="end">20</text><line x1="319.5" y1="187.5" x2="319.5" y2="190.5" stroke="#505050" stroke-width="1"/><text class="tk" x="319.5" y="198" text-anchor="middle">1.6</text><line x1="326.0" y1="187.5" x2="326.0" y2="189.5" stroke="#505050" stroke-width="1"/><line x1="332.5" y1="187.5" x2="332.5" y2="190.5" stroke="#505050" stroke-width="1"/><text class="tk" x="332.5" y="198" text-anchor="middle">1.8</text><line x1="339.0" y1="187.5" x2="339.0" y2="189.5" stroke="#505050" stroke-width="1"/><line x1="345.4" y1="187.5" x2="345.4" y2="190.5" stroke="#505050" stroke-width="1"/><text class="tk" x="345.4" y="198" text-anchor="middle">2.0</text><line x1="351.9" y1="187.5" x2="351.9" y2="189.5" stroke="#505050" stroke-width="1"/><line x1="358.4" y1="187.5" x2="358.4" y2="190.5" stroke="#505050" stroke-width="1"/><text class="tk" x="358.4" y="198" text-anchor="middle">2.2</text><line x1="364.9" y1="187.5" x2="364.9" y2="189.5" stroke="#505050" stroke-width="1"/><line x1="371.4" y1="187.5" x2="371.4" y2="190.5" stroke="#505050" stroke-width="1"/><text class="tk" x="371.4" y="198" text-anchor="middle">2.4</text><line x1="377.9" y1="187.5" x2="377.9" y2="189.5" stroke="#505050" stroke-width="1"/><line x1="384.4" y1="187.5" x2="384.4" y2="190.5" stroke="#505050" stroke-width="1"/><text class="tk" x="384.4" y="198" text-anchor="middle">2.6</text><line x1="390.8" y1="187.5" x2="390.8" y2="189.5" stroke="#505050" stroke-width="1"/><line x1="397.3" y1="187.5" x2="397.3" y2="190.5" stroke="#505050" stroke-width="1"/><text class="tk" x="397.3" y="198" text-anchor="middle">2.8</text><line x1="403.8" y1="187.5" x2="403.8" y2="189.5" stroke="#505050" stroke-width="1"/><line x1="410.3" y1="187.5" x2="410.3" y2="190.5" stroke="#505050" stroke-width="1"/><text class="tk" x="410.3" y="198" text-anchor="middle">3.0</text><line x1="416.8" y1="187.5" x2="416.8" y2="189.5" stroke="#505050" stroke-width="1"/><line x1="423.3" y1="187.5" x2="423.3" y2="190.5" stroke="#505050" stroke-width="1"/><text class="tk" x="423.3" y="198" text-anchor="middle">3.2</text><line x1="429.7" y1="187.5" x2="429.7" y2="189.5" stroke="#505050" stroke-width="1"/><line x1="436.2" y1="187.5" x2="436.2" y2="190.5" stroke="#505050" stroke-width="1"/><text class="tk" x="436.2" y="198" text-anchor="middle">3.4</text><line x1="442.7" y1="187.5" x2="442.7" y2="189.5" stroke="#505050" stroke-width="1"/><line x1="449.2" y1="187.5" x2="449.2" y2="190.5" stroke="#505050" stroke-width="1"/><text class="tk" x="449.2" y="198" text-anchor="middle">3.6</text><line x1="455.7" y1="187.5" x2="455.7" y2="189.5" stroke="#505050" stroke-width="1"/><line x1="462.2" y1="187.5" x2="462.2" y2="190.5" stroke="#505050" stroke-width="1"/><text class="tk" x="462.2" y="198" text-anchor="middle">3.8</text><line x1="468.7" y1="187.5" x2="468.7" y2="189.5" stroke="#505050" stroke-width="1"/><line x1="475.1" y1="187.5" x2="475.1" y2="190.5" stroke="#505050" stroke-width="1"/><text class="tk" x="475.1" y="198" text-anchor="middle">4.0</text><line x1="481.6" y1="187.5" x2="481.6" y2="189.5" stroke="#505050" stroke-width="1"/><line x1="488.1" y1="187.5" x2="488.1" y2="190.5" stroke="#505050" stroke-width="1"/><text class="tk" x="488.1" y="198" text-anchor="middle">4.2</text><line x1="494.6" y1="187.5" x2="494.6" y2="189.5" stroke="#505050" stroke-width="1"/><line x1="501.1" y1="187.5" x2="501.1" y2="190.5" stroke="#505050" stroke-width="1"/><text class="tk" x="501.1" y="198" text-anchor="middle">4.4</text><line x1="507.6" y1="187.5" x2="507.6" y2="189.5" stroke="#505050" stroke-width="1"/><line x1="514.0" y1="187.5" x2="514.0" y2="190.5" stroke="#505050" stroke-width="1"/><text class="tk" x="514.0" y="198" text-anchor="middle">4.6</text><line x1="520.5" y1="187.5" x2="520.5" y2="189.5" stroke="#505050" stroke-width="1"/><line x1="527.0" y1="187.5" x2="527.0" y2="190.5" stroke="#505050" stroke-width="1"/><text class="tk" x="527.0" y="198" text-anchor="middle">4.8</text><line x1="533.5" y1="187.5" x2="533.5" y2="189.5" stroke="#505050" stroke-width="1"/><line x1="540.0" y1="187.5" x2="540.0" y2="190.5" stroke="#505050" stroke-width="1"/><text class="tk" x="540.0" y="198" text-anchor="middle">5.0</text><g class="curves"><path d="M319.50,178.00 L320.50,178.01 L321.50,178.01 L322.51,178.02 L323.51,178.03 L324.51,178.04 L325.51,178.04 L326.52,178.05 L327.52,178.06 L328.52,178.07 L329.52,178.08 L330.53,178.08 L331.53,178.09 L332.53,178.10 L333.53,178.11 L334.53,178.12 L335.54,178.13 L336.54,178.13 L337.54,178.14 L338.54,178.15 L339.55,178.16 L340.55,178.17 L341.55,178.18 L342.55,178.18 L343.56,178.19 L344.56,178.20 L345.56,178.21 L346.56,178.22 L347.57,178.23 L348.57,178.24 L349.57,178.24 L350.57,178.25 L351.57,178.26 L352.58,178.27 L353.58,178.28 L354.58,178.28 L355.58,178.29 L356.59,178.30 L357.59,178.31 L358.59,178.32 L359.59,178.32 L360.60,178.33 L361.60,178.34 L362.60,178.34 L363.60,178.35 L364.60,178.36 L365.61,178.36 L366.61,178.37 L367.61,178.37 L368.61,178.38 L369.62,178.38 L370.62,178.39 L371.62,178.39 L372.62,178.39 L373.63,178.40 L374.63,178.40 L375.63,178.40 L376.63,178.40 L377.64,178.40 L378.64,178.40 L379.64,178.40 L380.64,178.39 L381.64,178.39 L382.65,178.38 L383.65,178.37 L384.65,178.36 L385.65,178.35 L386.66,178.34 L387.66,178.32 L388.66,178.31 L389.66,178.29 L390.66,178.27 L391.67,178.26 L392.67,178.24 L393.67,178.22 L394.67,178.21 L395.68,178.20 L396.68,178.20 L397.68,178.20 L398.68,178.20 L399.69,178.20 L400.69,178.20 L401.69,178.20 L402.69,178.20 L403.69,178.19 L404.70,178.18 L405.70,178.15 L406.70,178.11 L407.70,178.05 L408.70,177.98 L409.69,177.88 L410.69,177.75 L411.68,177.61 L412.66,177.43 L413.64,177.23 L414.62,177.01 L415.59,176.78 L416.57,176.53 L417.53,176.27 L418.50,175.99 L419.46,175.71 L420.41,175.40 L421.35,175.07 L422.29,174.72 L423.21,174.33 L424.12,173.91 L425.00,173.45 L425.87,172.95 L426.72,172.42 L427.54,171.86 L428.34,171.26 L429.13,170.64 L429.89,170.00 L430.64,169.33 L431.37,168.64 L432.08,167.94 L432.77,167.21 L433.44,166.47 L434.08,165.70 L434.70,164.92 L435.30,164.12 L435.87,163.30 L436.43,162.46 L436.97,161.62 L437.50,160.77 L438.02,159.92 L438.55,159.06 L439.06,158.20 L439.58,157.35 L440.09,156.48 L440.60,155.62 L441.08,154.74 L441.55,153.86 L442.00,152.96 L442.43,152.06 L442.84,151.14 L443.24,150.22 L443.62,149.30 L444.00,148.37 L444.36,147.44 L444.73,146.50 L445.08,145.56 L445.43,144.63 L445.78,143.68 L446.12,142.74 L446.46,141.80 L446.79,140.85 L447.12,139.91 L447.45,138.96 L447.77,138.01 L448.09,137.06 L448.41,136.11 L448.73,135.16 L449.04,134.21 L449.35,133.25 L449.65,132.30 L449.96,131.34 L450.26,130.39 L450.55,129.43 L450.85,128.47 L451.13,127.51 L451.42,126.55 L451.70,125.59 L451.98,124.63 L452.25,123.66 L452.52,122.70 L452.79,121.73 L453.05,120.76 L453.30,119.79 L453.56,118.82 L453.81,117.85 L454.06,116.88 L454.30,115.91 L454.54,114.94 L454.78,113.96 L455.01,112.99 L455.24,112.01 L455.47,111.03 L455.69,110.06 L455.91,109.08 L456.12,108.10 L456.34,107.12 L456.54,106.14 L456.75,105.16 L456.95,104.18 L457.15,103.20 L457.34,102.21 L457.53,101.23 L457.72,100.24 L457.90,99.26 L458.07,98.27 L458.25,97.28 L458.41,96.29 L458.58,95.31 L458.74,94.32 L458.90,93.33 L459.05,92.34 L459.20,91.35 L459.35,90.35 L459.49,89.36 L459.64,88.37 L459.77,87.38 L459.91,86.38 L460.05,85.39 L460.18,84.40 L460.31,83.40 L460.44,82.41 L460.56,81.41 L460.67,80.42 L460.78,79.42 L460.88,78.43 L460.98,77.43 L461.07,76.43 L461.16,75.43 L461.25,74.43 L461.33,73.43 L461.41,72.43 L461.49,71.44 L461.58,70.44 L461.66,69.44 L461.75,68.44 L461.84,67.44 L461.95,66.44 L462.06,65.45 L462.18,64.45 L462.32,63.46 L462.47,62.47 L462.65,61.49 L462.85,60.51 L463.07,59.53 L463.31,58.56 L463.56,57.59 L463.81,56.62 L464.07,55.65 L464.31,54.68 L464.54,53.70 L464.77,52.73 L464.99,51.75 L465.20,50.77 L465.40,49.79 L465.61,48.81 L465.81,47.82 L466.01,46.84 L466.21,45.86 L466.41,44.88 L466.61,43.89 L466.81,42.91 L467.01,41.93 L467.20,40.95 L467.40,39.96 L467.60,38.98 L467.80,38.00 L468.00,37.02 L468.21,36.04 L468.41,35.05 L468.62,34.07 L468.83,33.09 L469.04,32.11 L469.25,31.13 L469.47,30.16 L469.68,29.18 L469.89,28.20 L470.11,27.22 L470.32,26.24 L470.54,25.26 L470.76,24.28 L470.98,23.31 L471.22,22.33 L471.48,21.37 L471.76,20.40 L472.06,19.45 L472.40,18.51 L472.76,17.58 L473.16,16.66 L473.59,15.76 L474.04,14.87 L474.52,13.99 L475.01,13.11 L475.51,12.24 L476.00,11.37 L476.50,10.50 L476.50,10.50" stroke="#2a2a2a"/>
<path d="M319.50,178.00 L320.50,178.00 L321.50,178.00 L322.51,178.00 L323.51,178.01 L324.51,178.01 L325.51,178.01 L326.52,178.01 L327.52,178.02 L328.52,178.02 L329.52,178.02 L330.52,178.03 L331.53,178.03 L332.53,178.04 L333.53,178.04 L334.53,178.04 L335.53,178.05 L336.54,178.05 L337.54,178.06 L338.54,178.06 L339.54,178.06 L340.55,178.07 L341.55,178.07 L342.55,178.07 L343.55,178.07 L344.55,178.07 L345.56,178.07 L346.56,178.07 L347.56,178.07 L348.56,178.07 L349.56,178.07 L350.57,178.07 L351.57,178.06 L352.57,178.06 L353.57,178.05 L354.58,178.05 L355.58,178.04 L356.58,178.03 L357.58,178.02 L358.58,178.01 L359.59,178.00 L360.59,177.99 L361.59,177.98 L362.59,177.97 L363.59,177.95 L364.60,177.94 L365.60,177.93 L366.60,177.92 L367.60,177.90 L368.60,177.89 L369.61,177.88 L370.61,177.86 L371.61,177.85 L372.61,177.83 L373.61,177.82 L374.62,177.80 L375.62,177.78 L376.62,177.77 L377.62,177.75 L378.62,177.73 L379.63,177.71 L380.63,177.69 L381.63,177.67 L382.63,177.65 L383.63,177.62 L384.64,177.60 L385.64,177.57 L386.64,177.54 L387.64,177.51 L388.64,177.48 L389.64,177.45 L390.65,177.41 L391.65,177.37 L392.65,177.33 L393.65,177.29 L394.65,177.24 L395.65,177.19 L396.65,177.13 L397.65,177.08 L398.65,177.02 L399.65,176.95 L400.65,176.89 L401.65,176.82 L402.65,176.76 L403.65,176.68 L404.65,176.61 L405.65,176.52 L406.65,176.43 L407.64,176.32 L408.64,176.19 L409.63,176.04 L410.61,175.87 L411.59,175.67 L412.57,175.44 L413.53,175.18 L414.49,174.90 L415.44,174.58 L416.38,174.24 L417.31,173.86 L418.23,173.47 L419.13,173.05 L420.03,172.60 L420.92,172.14 L421.79,171.65 L422.66,171.15 L423.51,170.63 L424.36,170.09 L425.18,169.53 L426.00,168.95 L426.80,168.35 L427.60,167.74 L428.37,167.10 L429.13,166.45 L429.88,165.79 L430.61,165.10 L431.32,164.39 L432.00,163.67 L432.67,162.92 L433.32,162.16 L433.95,161.38 L434.57,160.59 L435.18,159.80 L435.78,159.00 L436.38,158.19 L436.97,157.39 L437.56,156.58 L438.14,155.76 L438.70,154.93 L439.24,154.09 L439.75,153.23 L440.25,152.36 L440.72,151.47 L441.17,150.58 L441.61,149.68 L442.03,148.77 L442.45,147.86 L442.86,146.95 L443.26,146.03 L443.65,145.11 L444.04,144.18 L444.42,143.26 L444.79,142.33 L445.16,141.40 L445.53,140.46 L445.89,139.53 L446.25,138.59 L446.61,137.66 L446.96,136.72 L447.30,135.78 L447.65,134.83 L447.98,133.89 L448.32,132.95 L448.65,132.00 L448.97,131.05 L449.29,130.10 L449.61,129.15 L449.92,128.20 L450.22,127.24 L450.52,126.29 L450.81,125.33 L451.10,124.37 L451.38,123.41 L451.65,122.44 L451.92,121.48 L452.18,120.51 L452.44,119.54 L452.69,118.57 L452.94,117.60 L453.18,116.63 L453.42,115.65 L453.65,114.68 L453.88,113.70 L454.11,112.73 L454.33,111.75 L454.55,110.77 L454.77,109.80 L454.98,108.82 L455.19,107.84 L455.40,106.86 L455.61,105.87 L455.81,104.89 L456.01,103.91 L456.20,102.93 L456.40,101.94 L456.58,100.96 L456.77,99.98 L456.95,98.99 L457.12,98.00 L457.29,97.02 L457.46,96.03 L457.62,95.04 L457.78,94.05 L457.94,93.06 L458.09,92.07 L458.24,91.08 L458.39,90.09 L458.53,89.09 L458.67,88.10 L458.81,87.11 L458.95,86.12 L459.08,85.12 L459.22,84.13 L459.35,83.14 L459.47,82.14 L459.60,81.15 L459.71,80.15 L459.83,79.16 L459.94,78.16 L460.05,77.17 L460.15,76.17 L460.25,75.17 L460.35,74.17 L460.44,73.18 L460.54,72.18 L460.63,71.18 L460.72,70.18 L460.81,69.19 L460.90,68.19 L460.99,67.19 L461.09,66.19 L461.18,65.19 L461.28,64.20 L461.38,63.20 L461.49,62.20 L461.59,61.21 L461.71,60.21 L461.82,59.22 L461.94,58.22 L462.07,57.23 L462.20,56.23 L462.33,55.24 L462.47,54.25 L462.61,53.26 L462.76,52.26 L462.91,51.27 L463.06,50.28 L463.21,49.29 L463.36,48.30 L463.52,47.31 L463.67,46.32 L463.83,45.33 L463.99,44.34 L464.15,43.35 L464.31,42.36 L464.47,41.37 L464.63,40.39 L464.80,39.40 L464.97,38.41 L465.14,37.42 L465.31,36.43 L465.49,35.45 L465.67,34.46 L465.85,33.48 L466.03,32.49 L466.22,31.51 L466.41,30.52 L466.61,29.54 L466.81,28.56 L467.01,27.58 L467.22,26.60 L467.43,25.62 L467.65,24.64 L467.87,23.66 L468.10,22.69 L468.33,21.71 L468.56,20.73 L468.79,19.76 L469.02,18.79 L469.25,17.81 L469.49,16.84 L469.72,15.86 L469.96,14.89 L470.19,13.91 L470.42,12.94 L470.65,11.96 L470.89,10.99 L471.00,10.50" stroke="#e84a4f"/>
<path d="M319.50,178.00 L320.50,178.00 L321.50,178.00 L322.51,178.00 L323.51,178.01 L324.51,178.01 L325.51,178.02 L326.52,178.03 L327.52,178.03 L328.52,178.04 L329.52,178.04 L330.53,178.04 L331.53,178.04 L332.53,178.04 L333.53,178.03 L334.54,178.02 L335.54,178.01 L336.54,177.99 L337.54,177.97 L338.55,177.94 L339.55,177.91 L340.55,177.87 L341.55,177.83 L342.55,177.78 L343.55,177.73 L344.56,177.68 L345.56,177.63 L346.56,177.58 L347.56,177.52 L348.56,177.46 L349.56,177.40 L350.56,177.34 L351.56,177.27 L352.56,177.20 L353.56,177.13 L354.56,177.06 L355.56,176.98 L356.56,176.90 L357.56,176.82 L358.56,176.73 L359.56,176.65 L360.55,176.55 L361.55,176.46 L362.55,176.36 L363.55,176.25 L364.54,176.14 L365.54,176.02 L366.53,175.90 L367.53,175.77 L368.52,175.62 L369.51,175.47 L370.50,175.31 L371.48,175.13 L372.47,174.95 L373.45,174.77 L374.44,174.57 L375.42,174.38 L376.41,174.19 L377.39,174.00 L378.37,173.81 L379.36,173.63 L380.35,173.45 L381.33,173.28 L382.32,173.11 L383.31,172.94 L384.30,172.78 L385.29,172.61 L386.28,172.45 L387.27,172.29 L388.26,172.12 L389.25,171.96 L390.24,171.80 L391.22,171.63 L392.21,171.47 L393.20,171.31 L394.19,171.14 L395.18,170.98 L396.17,170.82 L397.16,170.66 L398.15,170.51 L399.14,170.36 L400.13,170.21 L401.12,170.06 L402.11,169.90 L403.10,169.74 L404.09,169.57 L405.07,169.38 L406.06,169.18 L407.03,168.96 L408.01,168.72 L408.97,168.46 L409.94,168.18 L410.89,167.88 L411.84,167.57 L412.79,167.24 L413.73,166.89 L414.66,166.52 L415.58,166.13 L416.50,165.73 L417.40,165.30 L418.30,164.86 L419.19,164.39 L420.06,163.90 L420.92,163.39 L421.77,162.85 L422.60,162.30 L423.43,161.73 L424.24,161.14 L425.04,160.54 L425.83,159.93 L426.62,159.31 L427.40,158.68 L428.17,158.04 L428.94,157.40 L429.70,156.75 L430.46,156.09 L431.21,155.42 L431.94,154.74 L432.64,154.03 L433.32,153.30 L433.95,152.53 L434.55,151.73 L435.10,150.90 L435.61,150.04 L436.10,149.17 L436.55,148.28 L436.99,147.38 L437.41,146.47 L437.82,145.55 L438.23,144.64 L438.62,143.72 L439.02,142.80 L439.41,141.87 L439.81,140.95 L440.20,140.03 L440.60,139.11 L440.99,138.19 L441.38,137.27 L441.77,136.34 L442.15,135.41 L442.53,134.49 L442.90,133.55 L443.27,132.62 L443.63,131.69 L443.98,130.75 L444.33,129.81 L444.68,128.87 L445.02,127.92 L445.35,126.98 L445.69,126.03 L446.02,125.09 L446.35,124.14 L446.67,123.19 L446.99,122.24 L447.31,121.29 L447.63,120.34 L447.95,119.39 L448.26,118.44 L448.57,117.49 L448.88,116.53 L449.18,115.58 L449.48,114.62 L449.78,113.66 L450.07,112.70 L450.36,111.74 L450.64,110.78 L450.92,109.82 L451.19,108.85 L451.46,107.89 L451.73,106.92 L451.98,105.95 L452.23,104.98 L452.47,104.01 L452.71,103.03 L452.94,102.06 L453.16,101.08 L453.37,100.10 L453.57,99.12 L453.77,98.14 L453.96,97.15 L454.15,96.17 L454.33,95.18 L454.51,94.20 L454.68,93.21 L454.85,92.22 L455.01,91.23 L455.17,90.24 L455.34,89.25 L455.49,88.26 L455.65,87.27 L455.81,86.28 L455.97,85.29 L456.13,84.30 L456.29,83.31 L456.45,82.32 L456.61,81.33 L456.77,80.34 L456.93,79.35 L457.08,78.36 L457.24,77.37 L457.40,76.38 L457.55,75.39 L457.70,74.40 L457.85,73.41 L458.00,72.42 L458.15,71.43 L458.29,70.44 L458.44,69.44 L458.58,68.45 L458.73,67.46 L458.87,66.47 L459.01,65.48 L459.15,64.48 L459.29,63.49 L459.43,62.50 L459.56,61.50 L459.69,60.51 L459.81,59.51 L459.94,58.52 L460.06,57.52 L460.18,56.53 L460.31,55.53 L460.44,54.54 L460.57,53.55 L460.70,52.55 L460.84,51.56 L460.97,50.57 L461.11,49.57 L461.25,48.58 L461.39,47.59 L461.53,46.60 L461.67,45.60 L461.81,44.61 L461.95,43.62 L462.09,42.63 L462.23,41.63 L462.38,40.64 L462.52,39.65 L462.67,38.66 L462.82,37.67 L462.97,36.67 L463.12,35.68 L463.27,34.69 L463.42,33.70 L463.57,32.71 L463.73,31.72 L463.89,30.73 L464.05,29.74 L464.21,28.75 L464.38,27.76 L464.55,26.78 L464.72,25.79 L464.89,24.80 L465.06,23.81 L465.24,22.83 L465.42,21.84 L465.60,20.85 L465.78,19.87 L465.96,18.88 L466.14,17.89 L466.32,16.91 L466.51,15.92 L466.69,14.94 L466.87,13.95 L467.05,12.97 L467.23,11.98 L467.41,10.99 L467.50,10.50" stroke="#4040cc"/>
<path d="M319.50,177.80 L320.50,177.79 L321.51,177.79 L322.51,177.79 L323.51,177.79 L324.52,177.79 L325.52,177.79 L326.52,177.78 L327.53,177.78 L328.53,177.77 L329.53,177.76 L330.54,177.75 L331.54,177.72 L332.54,177.69 L333.55,177.65 L334.55,177.61 L335.55,177.55 L336.55,177.49 L337.55,177.43 L338.55,177.35 L339.55,177.28 L340.55,177.19 L341.55,177.10 L342.55,177.00 L343.55,176.90 L344.55,176.78 L345.54,176.66 L346.54,176.52 L347.53,176.38 L348.52,176.22 L349.51,176.06 L350.50,175.88 L351.48,175.69 L352.46,175.48 L353.44,175.27 L354.42,175.04 L355.39,174.81 L356.37,174.56 L357.34,174.31 L358.31,174.06 L359.28,173.80 L360.25,173.54 L361.22,173.28 L362.19,173.01 L363.15,172.75 L364.12,172.49 L365.09,172.23 L366.06,171.97 L367.03,171.72 L368.00,171.46 L368.97,171.21 L369.94,170.95 L370.91,170.69 L371.88,170.44 L372.85,170.18 L373.82,169.92 L374.79,169.67 L375.77,169.42 L376.74,169.17 L377.71,168.93 L378.69,168.69 L379.66,168.45 L380.64,168.22 L381.61,167.99 L382.59,167.76 L383.57,167.54 L384.55,167.32 L385.53,167.10 L386.51,166.88 L387.49,166.67 L388.47,166.45 L389.45,166.23 L390.43,166.02 L391.41,165.80 L392.39,165.58 L393.37,165.37 L394.35,165.15 L395.33,164.94 L396.31,164.73 L397.29,164.52 L398.27,164.32 L399.26,164.12 L400.24,163.92 L401.22,163.71 L402.20,163.51 L403.18,163.30 L404.16,163.08 L405.14,162.84 L406.11,162.60 L407.08,162.33 L408.04,162.05 L409.00,161.75 L409.95,161.43 L410.89,161.10 L411.83,160.75 L412.77,160.39 L413.70,160.01 L414.62,159.62 L415.54,159.22 L416.46,158.82 L417.37,158.40 L418.29,157.98 L419.19,157.55 L420.10,157.12 L421.00,156.68 L421.90,156.24 L422.80,155.80 L423.70,155.35 L424.59,154.89 L425.48,154.42 L426.35,153.93 L427.22,153.43 L428.07,152.90 L428.90,152.34 L429.72,151.76 L430.51,151.15 L431.29,150.53 L432.06,149.88 L432.81,149.21 L433.55,148.53 L434.27,147.84 L434.97,147.13 L435.67,146.40 L436.35,145.66 L437.01,144.91 L437.66,144.15 L438.29,143.37 L438.90,142.58 L439.50,141.77 L440.07,140.95 L440.63,140.12 L441.17,139.27 L441.70,138.42 L442.21,137.56 L442.70,136.68 L443.18,135.80 L443.65,134.91 L444.10,134.02 L444.54,133.12 L444.98,132.21 L445.41,131.31 L445.84,130.40 L446.28,129.50 L446.72,128.60 L447.16,127.70 L447.61,126.80 L448.05,125.90 L448.50,125.00 L448.95,124.10 L449.40,123.20 L449.85,122.31 L450.30,121.41 L450.74,120.51 L451.19,119.61 L451.64,118.72 L452.09,117.82 L452.54,116.92 L452.99,116.03 L453.45,115.13 L453.90,114.24 L454.36,113.35 L454.82,112.45 L455.28,111.56 L455.74,110.67 L456.20,109.78 L456.65,108.88 L457.10,107.99 L457.54,107.08 L457.98,106.18 L458.39,105.27 L458.80,104.35 L459.18,103.42 L459.54,102.49 L459.89,101.55 L460.22,100.60 L460.55,99.66 L460.89,98.71 L461.24,97.77 L461.61,96.84 L462.00,95.92 L462.41,95.00 L462.83,94.09 L463.27,93.19 L463.73,92.30 L464.22,91.42 L464.73,90.56 L465.27,89.72 L465.84,88.90 L466.44,88.09 L467.05,87.31 L467.70,86.54 L468.36,85.78 L469.04,85.05 L469.73,84.33 L470.45,83.62 L471.18,82.94 L471.93,82.28 L472.71,81.65 L473.51,81.06 L474.35,80.52 L475.22,80.03 L476.11,79.58 L477.02,79.18 L477.96,78.82 L478.90,78.49 L479.85,78.18 L480.81,77.90 L481.78,77.62 L482.75,77.36 L483.72,77.10 L484.69,76.84 L485.66,76.59 L486.63,76.34 L487.60,76.09 L488.57,75.85 L489.55,75.60 L490.52,75.37 L491.50,75.14 L492.48,74.92 L493.46,74.70 L494.44,74.49 L495.42,74.30 L496.41,74.11 L497.40,73.93 L498.39,73.77 L499.38,73.62 L500.37,73.49 L501.37,73.37 L502.37,73.27 L503.37,73.19 L504.37,73.13 L505.37,73.08 L506.37,73.04 L507.37,73.02 L508.38,73.02 L509.38,73.04 L510.38,73.07 L511.38,73.12 L512.38,73.20 L513.38,73.30 L514.38,73.41 L515.37,73.53 L516.37,73.66 L517.36,73.78 L518.36,73.89 L519.36,73.98 L520.36,74.04 L521.35,74.06 L522.35,74.02 L523.34,73.93 L524.31,73.76 L525.27,73.51 L526.21,73.19 L527.11,72.79 L527.98,72.31 L528.81,71.77 L529.60,71.16 L530.34,70.51 L531.06,69.81 L531.73,69.08 L532.38,68.31 L533.00,67.53 L533.59,66.72 L534.17,65.90 L534.74,65.08 L535.30,64.25 L535.86,63.41 L536.41,62.57 L536.97,61.74 L537.52,60.90 L538.08,60.07 L538.65,59.24 L539.22,58.41 L539.50,58.00" stroke="#2a9a48"/>
<path d="M319.50,175.80 L320.50,175.76 L321.50,175.73 L322.51,175.70 L323.51,175.66 L324.51,175.63 L325.51,175.59 L326.51,175.55 L327.51,175.49 L328.51,175.42 L329.51,175.33 L330.50,175.22 L331.50,175.09 L332.49,174.94 L333.48,174.78 L334.46,174.60 L335.45,174.40 L336.43,174.19 L337.40,173.97 L338.37,173.73 L339.34,173.47 L340.31,173.19 L341.26,172.90 L342.22,172.60 L343.17,172.28 L344.11,171.94 L345.05,171.58 L345.97,171.20 L346.89,170.80 L347.79,170.36 L348.67,169.89 L349.53,169.39 L350.37,168.85 L351.19,168.27 L351.99,167.67 L352.77,167.04 L353.53,166.39 L354.27,165.73 L355.01,165.04 L355.73,164.35 L356.45,163.65 L357.15,162.94 L357.84,162.21 L358.52,161.48 L359.18,160.73 L359.83,159.96 L360.47,159.19 L361.12,158.43 L361.78,157.68 L362.46,156.96 L363.19,156.27 L363.94,155.62 L364.73,155.01 L365.55,154.43 L366.38,153.89 L367.24,153.37 L368.11,152.87 L368.99,152.39 L369.88,151.93 L370.77,151.49 L371.68,151.06 L372.60,150.66 L373.52,150.27 L374.45,149.90 L375.39,149.56 L376.34,149.22 L377.28,148.89 L378.23,148.57 L379.18,148.25 L380.13,147.93 L381.08,147.60 L382.02,147.26 L382.96,146.91 L383.90,146.55 L384.83,146.18 L385.76,145.81 L386.69,145.44 L387.62,145.06 L388.54,144.67 L389.47,144.28 L390.38,143.88 L391.30,143.47 L392.21,143.05 L393.11,142.62 L394.01,142.17 L394.90,141.71 L395.78,141.23 L396.65,140.74 L397.52,140.24 L398.38,139.73 L399.24,139.20 L400.08,138.67 L400.93,138.13 L401.77,137.59 L402.61,137.05 L403.46,136.50 L404.30,135.96 L405.14,135.41 L405.99,134.87 L406.83,134.34 L407.69,133.82 L408.55,133.30 L409.41,132.79 L410.28,132.29 L411.15,131.80 L412.03,131.31 L412.91,130.83 L413.79,130.36 L414.67,129.88 L415.56,129.41 L416.44,128.94 L417.32,128.46 L418.21,127.98 L419.09,127.51 L419.97,127.03 L420.85,126.55 L421.74,126.08 L422.62,125.62 L423.51,125.15 L424.40,124.69 L425.29,124.22 L426.17,123.75 L427.05,123.26 L427.91,122.76 L428.77,122.24 L429.60,121.69 L430.42,121.12 L431.22,120.51 L431.99,119.88 L432.73,119.21 L433.45,118.51 L434.14,117.79 L434.80,117.04 L435.44,116.28 L436.07,115.49 L436.68,114.70 L437.27,113.89 L437.86,113.08 L438.43,112.26 L439.01,111.44 L439.58,110.61 L440.14,109.79 L440.71,108.96 L441.27,108.13 L441.82,107.29 L442.37,106.45 L442.90,105.60 L443.42,104.75 L443.93,103.88 L444.42,103.01 L444.90,102.13 L445.35,101.24 L445.79,100.33 L446.21,99.42 L446.61,98.51 L446.99,97.58 L447.36,96.65 L447.71,95.71 L448.05,94.77 L448.38,93.82 L448.70,92.87 L449.02,91.92 L449.33,90.97 L449.63,90.01 L449.93,89.06 L450.23,88.10 L450.52,87.14 L450.82,86.18 L451.12,85.23 L451.41,84.27 L451.71,83.31 L452.00,82.35 L452.29,81.39 L452.58,80.43 L452.86,79.47 L453.14,78.51 L453.42,77.54 L453.69,76.58 L453.97,75.62 L454.24,74.65 L454.52,73.69 L454.80,72.73 L455.08,71.76 L455.36,70.80 L455.64,69.84 L455.93,68.88 L456.22,67.92 L456.51,66.96 L456.79,66.00 L457.08,65.04 L457.36,64.07 L457.63,63.11 L457.90,62.15 L458.17,61.18 L458.42,60.21 L458.67,59.24 L458.91,58.27 L459.15,57.29 L459.37,56.32 L459.60,55.34 L459.81,54.36 L460.03,53.38 L460.25,52.40 L460.46,51.42 L460.68,50.44 L460.90,49.47 L461.13,48.49 L461.37,47.52 L461.61,46.55 L461.87,45.58 L462.14,44.61 L462.41,43.65 L462.70,42.69 L462.99,41.73 L463.30,40.77 L463.62,39.82 L463.94,38.88 L464.29,37.94 L464.65,37.00 L465.03,36.08 L465.44,35.16 L465.86,34.26 L466.31,33.36 L466.76,32.46 L467.21,31.57 L467.66,30.67 L468.11,29.78 L468.54,28.87 L468.96,27.97 L469.37,27.05 L469.76,26.13 L470.15,25.20 L470.54,24.28 L470.94,23.36 L471.36,22.45 L471.80,21.56 L472.27,20.68 L472.78,19.81 L473.32,18.97 L473.88,18.15 L474.49,17.35 L475.12,16.58 L475.79,15.85 L476.50,15.14 L477.24,14.47 L478.01,13.83 L478.80,13.23 L479.62,12.65 L480.45,12.09 L481.29,11.55 L482.15,11.02 L483.00,10.50 L483.00,10.50" stroke="#f04ce6"/>
<path d="M319.50,174.30 L320.50,174.28 L321.50,174.26 L322.51,174.25 L323.51,174.23 L324.51,174.19 L325.51,174.14 L326.50,174.07 L327.50,173.95 L328.48,173.81 L329.47,173.62 L330.44,173.41 L331.41,173.16 L332.38,172.89 L333.33,172.60 L334.29,172.29 L335.23,171.96 L336.17,171.61 L337.10,171.25 L338.03,170.87 L338.95,170.47 L339.86,170.06 L340.76,169.62 L341.66,169.17 L342.54,168.70 L343.41,168.21 L344.27,167.70 L345.12,167.17 L345.95,166.62 L346.77,166.04 L347.56,165.42 L348.32,164.78 L349.05,164.11 L349.75,163.40 L350.41,162.65 L351.04,161.87 L351.62,161.07 L352.17,160.23 L352.69,159.38 L353.19,158.51 L353.66,157.63 L354.12,156.74 L354.56,155.84 L354.99,154.94 L355.41,154.03 L355.81,153.11 L356.20,152.18 L356.57,151.25 L356.93,150.32 L357.29,149.38 L357.64,148.45 L358.00,147.51 L358.36,146.58 L358.72,145.64 L359.09,144.71 L359.46,143.78 L359.83,142.85 L360.21,141.92 L360.59,140.99 L360.98,140.07 L361.36,139.14 L361.76,138.22 L362.16,137.30 L362.57,136.39 L363.01,135.49 L363.46,134.60 L363.95,133.73 L364.46,132.87 L365.00,132.03 L365.56,131.20 L366.15,130.39 L366.76,129.60 L367.40,128.83 L368.06,128.08 L368.75,127.36 L369.46,126.65 L370.19,125.97 L370.95,125.32 L371.72,124.68 L372.50,124.05 L373.30,123.45 L374.10,122.85 L374.92,122.27 L375.74,121.69 L376.57,121.13 L377.40,120.57 L378.24,120.03 L379.09,119.50 L379.95,118.98 L380.82,118.49 L381.70,118.01 L382.58,117.54 L383.47,117.09 L384.36,116.63 L385.25,116.16 L386.13,115.69 L387.00,115.19 L387.85,114.66 L388.68,114.11 L389.49,113.53 L390.28,112.91 L391.05,112.27 L391.80,111.61 L392.54,110.93 L393.26,110.24 L393.99,109.55 L394.71,108.85 L395.43,108.16 L396.16,107.48 L396.91,106.81 L397.66,106.15 L398.44,105.52 L399.23,104.90 L400.03,104.31 L400.85,103.73 L401.68,103.17 L402.51,102.62 L403.36,102.09 L404.22,101.57 L405.08,101.07 L405.96,100.58 L406.84,100.11 L407.74,99.66 L408.64,99.22 L409.55,98.81 L410.47,98.41 L411.40,98.04 L412.33,97.68 L413.27,97.34 L414.22,97.02 L415.18,96.72 L416.14,96.43 L417.10,96.15 L418.06,95.88 L419.03,95.62 L420.00,95.38 L420.98,95.16 L421.96,94.95 L422.94,94.75 L423.92,94.56 L424.91,94.37 L425.89,94.19 L426.88,94.00 L427.86,93.82 L428.85,93.63 L429.83,93.44 L430.81,93.25 L431.80,93.05 L432.77,92.84 L433.74,92.60 L434.71,92.33 L435.65,92.02 L436.59,91.67 L437.51,91.28 L438.41,90.85 L439.30,90.40 L440.18,89.91 L441.04,89.41 L441.89,88.88 L442.73,88.33 L443.55,87.76 L444.35,87.17 L445.14,86.55 L445.92,85.92 L446.68,85.27 L447.42,84.60 L448.15,83.91 L448.86,83.21 L449.56,82.49 L450.25,81.76 L450.91,81.01 L451.55,80.24 L452.17,79.46 L452.77,78.66 L453.36,77.85 L453.94,77.03 L454.52,76.21 L455.09,75.39 L455.67,74.58 L456.26,73.76 L456.84,72.95 L457.43,72.13 L458.01,71.32 L458.59,70.50 L459.16,69.68 L459.74,68.86 L460.31,68.04 L460.88,67.21 L461.44,66.38 L462.00,65.55 L462.56,64.72 L463.11,63.88 L463.66,63.05 L464.20,62.20 L464.74,61.36 L465.27,60.51 L465.78,59.65 L466.29,58.79 L466.81,57.93 L467.33,57.07 L467.87,56.23 L468.44,55.41 L469.05,54.62 L469.69,53.87 L470.39,53.16 L471.12,52.50 L471.91,51.90 L472.74,51.38 L473.62,50.93 L474.54,50.56 L475.48,50.26 L476.45,50.01 L477.42,49.80 L478.40,49.60 L479.39,49.41 L480.37,49.22 L481.36,49.03 L482.34,48.85 L483.33,48.66 L484.31,48.48 L485.30,48.30 L486.28,48.12 L487.27,47.94 L488.25,47.76 L489.24,47.57 L490.22,47.38 L491.21,47.20 L492.19,47.01 L493.18,46.83 L494.16,46.66 L495.15,46.49 L496.14,46.32 L497.13,46.18 L498.12,46.04 L499.12,45.93 L500.11,45.84 L501.11,45.78 L502.11,45.73 L503.11,45.70 L504.12,45.68 L505.12,45.68 L506.12,45.69 L507.12,45.71 L508.12,45.74 L509.12,45.79 L510.12,45.85 L511.12,45.94 L512.11,46.04 L513.11,46.16 L514.10,46.29 L515.09,46.42 L516.09,46.55 L517.08,46.68 L518.08,46.81 L519.07,46.93 L520.06,47.04 L521.06,47.13 L522.05,47.19 L523.04,47.19 L524.03,47.12 L524.99,46.96 L525.94,46.70 L526.85,46.34 L527.74,45.90 L528.59,45.39 L529.40,44.82 L530.18,44.21 L530.93,43.55 L531.65,42.86 L532.34,42.14 L533.01,41.39 L533.66,40.63 L534.29,39.85 L534.91,39.07 L535.51,38.27 L536.11,37.46 L536.69,36.65 L537.26,35.82 L537.82,34.99 L538.38,34.16 L538.94,33.33 L539.50,32.50 L539.50,32.50" stroke="#f4a45a"/>
<path d="M319.50,160.50 L320.45,160.83 L321.39,161.14 L322.34,161.40 L323.30,161.59 L324.26,161.66 L325.21,161.60 L326.15,161.39 L327.05,161.05 L327.93,160.61 L328.77,160.09 L329.59,159.52 L330.37,158.91 L331.13,158.26 L331.86,157.57 L332.55,156.85 L333.22,156.11 L333.87,155.35 L334.51,154.57 L335.13,153.79 L335.75,153.00 L336.36,152.21 L336.99,151.42 L337.62,150.65 L338.29,149.92 L339.00,149.22 L339.75,148.57 L340.54,147.96 L341.36,147.39 L342.19,146.83 L343.03,146.29 L343.86,145.73 L344.67,145.14 L345.47,144.53 L346.23,143.89 L346.96,143.21 L347.64,142.49 L348.27,141.73 L348.83,140.91 L349.33,140.06 L349.76,139.16 L350.13,138.24 L350.47,137.30 L350.77,136.34 L351.05,135.38 L351.33,134.42 L351.60,133.45 L351.87,132.49 L352.14,131.52 L352.42,130.56 L352.69,129.59 L352.96,128.63 L353.23,127.66 L353.49,126.69 L353.75,125.72 L354.01,124.75 L354.27,123.78 L354.52,122.81 L354.77,121.84 L355.02,120.87 L355.27,119.90 L355.51,118.93 L355.75,117.95 L355.99,116.98 L356.22,116.00 L356.44,115.02 L356.66,114.04 L356.87,113.06 L357.07,112.08 L357.27,111.10 L357.47,110.12 L357.67,109.13 L357.87,108.15 L358.08,107.17 L358.29,106.19 L358.52,105.21 L358.76,104.24 L359.02,103.27 L359.29,102.31 L359.60,101.35 L359.93,100.41 L360.29,99.48 L360.69,98.56 L361.12,97.66 L361.58,96.77 L362.08,95.90 L362.61,95.05 L363.17,94.23 L363.77,93.43 L364.41,92.67 L365.09,91.94 L365.81,91.26 L366.58,90.63 L367.39,90.06 L368.25,89.56 L369.14,89.13 L370.06,88.77 L371.01,88.47 L371.97,88.22 L372.95,88.04 L373.94,87.90 L374.94,87.81 L375.94,87.77 L376.94,87.76 L377.94,87.79 L378.93,87.86 L379.93,87.96 L380.92,88.09 L381.90,88.27 L382.88,88.49 L383.84,88.75 L384.79,89.07 L385.72,89.42 L386.65,89.80 L387.57,90.19 L388.49,90.58 L389.42,90.96 L390.36,91.31 L391.30,91.64 L392.26,91.94 L393.22,92.23 L394.18,92.50 L395.16,92.74 L396.13,92.96 L397.11,93.15 L398.10,93.30 L399.09,93.41 L400.09,93.46 L401.08,93.45 L402.08,93.38 L403.06,93.26 L404.04,93.08 L405.02,92.85 L405.98,92.59 L406.95,92.31 L407.90,92.01 L408.86,91.70 L409.81,91.40 L410.77,91.09 L411.72,90.79 L412.68,90.50 L413.64,90.20 L414.60,89.90 L415.55,89.60 L416.50,89.28 L417.45,88.94 L418.38,88.58 L419.31,88.20 L420.22,87.79 L421.12,87.35 L422.01,86.89 L422.88,86.39 L423.73,85.87 L424.58,85.33 L425.41,84.77 L426.23,84.20 L427.05,83.62 L427.87,83.04 L428.68,82.45 L429.49,81.86 L430.30,81.26 L431.10,80.66 L431.89,80.05 L432.69,79.44 L433.47,78.82 L434.26,78.19 L435.05,77.57 L435.84,76.96 L436.64,76.35 L437.45,75.76 L438.27,75.18 L439.10,74.63 L439.95,74.09 L440.80,73.57 L441.67,73.07 L442.55,72.58 L443.43,72.12 L444.33,71.68 L445.25,71.27 L446.17,70.91 L447.12,70.60 L448.08,70.36 L449.05,70.20 L450.03,70.13 L451.02,70.16 L452.00,70.28 L452.96,70.48 L453.90,70.77 L454.81,71.15 L455.69,71.60 L456.53,72.12 L457.36,72.67 L458.18,73.23 L459.02,73.75 L459.90,74.21 L460.81,74.59 L461.75,74.89 L462.71,75.14 L463.69,75.32 L464.68,75.48 L465.67,75.60 L466.67,75.70 L467.67,75.80 L468.67,75.88 L469.67,75.95 L470.67,76.02 L471.67,76.08 L472.67,76.12 L473.67,76.15 L474.68,76.17 L475.68,76.18 L476.68,76.19 L477.68,76.20 L478.69,76.21 L479.69,76.22 L480.69,76.25 L481.69,76.29 L482.69,76.35 L483.69,76.42 L484.69,76.52 L485.69,76.63 L486.68,76.76 L487.67,76.91 L488.66,77.07 L489.65,77.25 L490.63,77.43 L491.62,77.63 L492.60,77.83 L493.58,78.04 L494.56,78.26 L495.54,78.48 L496.52,78.70 L497.49,78.93 L498.47,79.15 L499.45,79.38 L500.42,79.61 L501.40,79.85 L502.37,80.09 L503.34,80.34 L504.31,80.59 L505.28,80.85 L506.26,81.10 L507.23,81.34 L508.20,81.57 L509.18,81.80 L510.16,82.01 L511.14,82.20 L512.13,82.39 L513.12,82.57 L514.11,82.74 L515.10,82.89 L516.09,83.04 L517.08,83.17 L518.08,83.29 L519.08,83.39 L520.07,83.47 L521.07,83.54 L522.08,83.59 L523.08,83.63 L524.08,83.65 L525.08,83.66 L526.08,83.65 L527.09,83.62 L528.09,83.58 L529.09,83.52 L530.09,83.45 L531.09,83.35 L532.08,83.23 L533.07,83.09 L534.06,82.94 L535.05,82.78 L536.04,82.61 L537.03,82.43 L538.02,82.26 L539.01,82.09 L539.50,82.00" stroke="#2ad4dc"/>
</g><line x1="324.0" y1="19.4" x2="335.5" y2="19.4" stroke="#2a2a2a" stroke-width="1.05"/><text class="lg" x="336.7" y="21.2">P25</text>
<line x1="324.0" y1="26.6" x2="335.5" y2="26.6" stroke="#e84a4f" stroke-width="1.05"/><text class="lg" x="336.7" y="28.4">1% Fe<tspan class="sub" dy="1.3">2</tspan><tspan dy="-1.3">O</tspan><tspan class="sub" dy="1.3">3</tspan><tspan dy="-1.3">/TiO</tspan><tspan class="sub" dy="1.3">2</tspan><tspan dy="-1.3"> (P25)</tspan></text>
<line x1="324.0" y1="33.8" x2="335.5" y2="33.8" stroke="#4040cc" stroke-width="1.05"/><text class="lg" x="336.7" y="35.6">3% Fe<tspan class="sub" dy="1.3">2</tspan><tspan dy="-1.3">O</tspan><tspan class="sub" dy="1.3">3</tspan><tspan dy="-1.3">/TiO</tspan><tspan class="sub" dy="1.3">2</tspan><tspan dy="-1.3"> (P25)</tspan></text>
<line x1="324.0" y1="41.1" x2="335.5" y2="41.1" stroke="#2a9a48" stroke-width="1.05"/><text class="lg" x="336.7" y="42.9">5% Fe<tspan class="sub" dy="1.3">2</tspan><tspan dy="-1.3">O</tspan><tspan class="sub" dy="1.3">3</tspan><tspan dy="-1.3">/TiO</tspan><tspan class="sub" dy="1.3">2</tspan><tspan dy="-1.3"> (P25)</tspan></text>
<line x1="324.0" y1="48.3" x2="335.5" y2="48.3" stroke="#f04ce6" stroke-width="1.05"/><text class="lg" x="336.7" y="50.1">10% Fe<tspan class="sub" dy="1.3">2</tspan><tspan dy="-1.3">O</tspan><tspan class="sub" dy="1.3">3</tspan><tspan dy="-1.3">/TiO</tspan><tspan class="sub" dy="1.3">2</tspan><tspan dy="-1.3"> (P25)</tspan></text>
<line x1="324.0" y1="55.5" x2="335.5" y2="55.5" stroke="#f4a45a" stroke-width="1.05"/><text class="lg" x="336.7" y="57.3">20% Fe<tspan class="sub" dy="1.3">2</tspan><tspan dy="-1.3">O</tspan><tspan class="sub" dy="1.3">3</tspan><tspan dy="-1.3">/TiO</tspan><tspan class="sub" dy="1.3">2</tspan><tspan dy="-1.3"> (P25)</tspan></text>
<line x1="324.0" y1="62.7" x2="335.5" y2="62.7" stroke="#2ad4dc" stroke-width="1.05"/><text class="lg" x="336.7" y="64.5">Fe<tspan class="sub" dy="1.3">2</tspan><tspan dy="-1.3">O</tspan><tspan class="sub" dy="1.3">3</tspan></text>
<text class="ax" x="429.7" y="212.9" text-anchor="middle">Band Gap (eV)</text><text class="ax" transform="translate(301.6,117) rotate(-90)" style="font-size:8.4px">[F(R)E]<tspan style="font-size:5.5px" dx="0.6" dy="-2.8">1/2</tspan></text><text class="cap" x="420.8" y="231.4" text-anchor="middle">(b)</text><g stroke="#8a8a8a" stroke-width="0.6" fill="none"><line x1="360.0" y1="95.0" x2="337.5" y2="187.0"/><line x1="364.0" y1="156.0" x2="339.0" y2="187.0"/><line x1="432.0" y1="152.8" x2="416.0" y2="173.0"/><line x1="433.5" y1="158.0" x2="420.0" y2="178.0"/><line x1="440.4" y1="161.0" x2="432.0" y2="183.0"/><line x1="443.0" y1="155.0" x2="433.0" y2="183.0"/></g><text class="tl" x="333.0" y="183.2" text-anchor="middle">1.87</text><text class="tl" x="365.5" y="142.8" text-anchor="middle">1.89</text><text class="tl" x="365.5" y="162.8" text-anchor="middle">1.92</text><text class="tl" x="404.0" y="184.0" text-anchor="middle">2.94</text><text class="tl" x="416.6" y="182.8" text-anchor="middle">3.08</text><text class="tl" x="426.6" y="184.0" text-anchor="middle">3.29</text><text class="tl" x="439.3" y="180.0" text-anchor="middle">3.31</text></svg></body></html>
